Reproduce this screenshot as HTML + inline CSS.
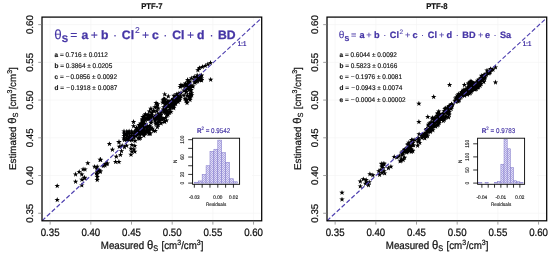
<!DOCTYPE html>
<html lang="en"><head><meta charset="utf-8"><title>PTF-7 / PTF-8</title>
<style>html,body{margin:0;padding:0;background:#fff}svg{display:block;text-rendering:geometricPrecision}</style></head>
<body>
<svg width="550" height="257" viewBox="0 0 550 257" font-family="'Liberation Sans', Arial, sans-serif" fill="#111">
<defs><pattern id="hatch" width="2" height="2" patternUnits="userSpaceOnUse"><rect width="2" height="2" fill="#b0a9e4"/><rect x="0" y="0" width="1" height="1" fill="#e0ddf5"/><rect x="1" y="1" width="1" height="1" fill="#e0ddf5"/></pattern></defs>
<rect width="550" height="257" fill="#fff"/>
<line x1="50.14" y1="17.10" x2="50.14" y2="220.80" stroke="#f4f4f4" stroke-width="0.60"/>
<line x1="42.00" y1="213.26" x2="261.70" y2="213.26" stroke="#f4f4f4" stroke-width="0.60"/>
<line x1="90.82" y1="17.10" x2="90.82" y2="220.80" stroke="#f4f4f4" stroke-width="0.60"/>
<line x1="42.00" y1="175.53" x2="261.70" y2="175.53" stroke="#f4f4f4" stroke-width="0.60"/>
<line x1="131.51" y1="17.10" x2="131.51" y2="220.80" stroke="#f4f4f4" stroke-width="0.60"/>
<line x1="42.00" y1="137.81" x2="261.70" y2="137.81" stroke="#f4f4f4" stroke-width="0.60"/>
<line x1="172.19" y1="17.10" x2="172.19" y2="220.80" stroke="#f4f4f4" stroke-width="0.60"/>
<line x1="42.00" y1="100.09" x2="261.70" y2="100.09" stroke="#f4f4f4" stroke-width="0.60"/>
<line x1="212.88" y1="17.10" x2="212.88" y2="220.80" stroke="#f4f4f4" stroke-width="0.60"/>
<line x1="42.00" y1="62.37" x2="261.70" y2="62.37" stroke="#f4f4f4" stroke-width="0.60"/>
<line x1="253.56" y1="17.10" x2="253.56" y2="220.80" stroke="#f4f4f4" stroke-width="0.60"/>
<line x1="42.00" y1="24.64" x2="261.70" y2="24.64" stroke="#f4f4f4" stroke-width="0.60"/>
<path d="M57.2 183.2L57.9 185.1L59.9 185.1L58.3 186.3L58.8 188.3L57.2 187.1L55.6 188.3L56.1 186.3L54.5 185.1L56.5 185.1ZM57.2 197.1L57.9 199.0L59.9 199.0L58.3 200.2L58.8 202.2L57.2 201.0L55.6 202.2L56.1 200.2L54.5 199.0L56.5 199.0ZM81.8 182.5L82.5 184.4L84.5 184.4L82.9 185.6L83.4 187.6L81.8 186.4L80.2 187.6L80.7 185.6L79.1 184.4L81.1 184.4ZM75.6 178.9L76.3 180.8L78.3 180.8L76.7 182.0L77.2 184.0L75.6 182.8L74.0 184.0L74.5 182.0L72.9 180.8L74.9 180.8ZM81.9 176.9L82.6 178.8L84.6 178.8L83.0 180.0L83.5 182.0L81.9 180.8L80.3 182.0L80.8 180.0L79.2 178.8L81.2 178.8ZM84.7 175.6L85.4 177.5L87.4 177.5L85.8 178.7L86.3 180.7L84.7 179.5L83.1 180.7L83.6 178.7L82.0 177.5L84.0 177.5ZM87.8 160.4L88.5 162.3L90.5 162.3L88.9 163.5L89.4 165.5L87.8 164.3L86.2 165.5L86.7 163.5L85.1 162.3L87.1 162.3ZM100.2 156.8L100.9 158.7L102.9 158.7L101.3 159.9L101.8 161.9L100.2 160.7L98.6 161.9L99.1 159.9L97.5 158.7L99.5 158.7ZM83.1 166.5L83.8 168.4L85.8 168.4L84.2 169.6L84.7 171.6L83.1 170.4L81.5 171.6L82.0 169.6L80.4 168.4L82.4 168.4ZM85.0 166.7L85.7 168.6L87.7 168.6L86.1 169.8L86.6 171.8L85.0 170.6L83.4 171.8L83.9 169.8L82.3 168.6L84.3 168.6ZM79.2 169.0L79.9 170.9L81.9 170.9L80.3 172.1L80.8 174.1L79.2 172.9L77.6 174.1L78.1 172.1L76.5 170.9L78.5 170.9ZM75.6 171.6L76.3 173.5L78.3 173.5L76.7 174.7L77.2 176.7L75.6 175.5L74.0 176.7L74.5 174.7L72.9 173.5L74.9 173.5ZM81.8 171.6L82.5 173.5L84.5 173.5L82.9 174.7L83.4 176.7L81.8 175.5L80.2 176.7L80.7 174.7L79.1 173.5L81.1 173.5ZM84.4 174.8L85.1 176.7L87.1 176.7L85.5 177.9L86.0 179.9L84.4 178.7L82.8 179.9L83.3 177.9L81.7 176.7L83.7 176.7ZM94.6 163.9L95.3 165.8L97.3 165.8L95.7 167.0L96.2 169.0L94.6 167.8L93.0 169.0L93.5 167.0L91.9 165.8L93.9 165.8ZM104.9 162.6L105.6 164.5L107.6 164.5L106.0 165.7L106.5 167.7L104.9 166.5L103.3 167.7L103.8 165.7L102.2 164.5L104.2 164.5ZM106.8 161.1L107.5 163.0L109.5 163.0L107.9 164.2L108.4 166.2L106.8 165.0L105.2 166.2L105.7 164.2L104.1 163.0L106.1 163.0ZM100.4 168.4L101.1 170.3L103.1 170.3L101.5 171.5L102.0 173.5L100.4 172.3L98.8 173.5L99.3 171.5L97.7 170.3L99.7 170.3ZM97.2 163.9L97.9 165.8L99.9 165.8L98.3 167.0L98.8 169.0L97.2 167.8L95.6 169.0L96.1 167.0L94.5 165.8L96.5 165.8ZM97.0 166.7L97.7 168.6L99.7 168.6L98.1 169.8L98.6 171.8L97.0 170.6L95.4 171.8L95.9 169.8L94.3 168.6L96.3 168.6ZM97.4 169.2L98.1 171.1L100.1 171.1L98.5 172.3L99.0 174.3L97.4 173.1L95.8 174.3L96.3 172.3L94.7 171.1L96.7 171.1ZM97.1 171.7L97.8 173.6L99.8 173.6L98.2 174.8L98.7 176.8L97.1 175.6L95.5 176.8L96.0 174.8L94.4 173.6L96.4 173.6ZM97.3 174.2L98.0 176.1L100.0 176.1L98.4 177.3L98.9 179.3L97.3 178.1L95.7 179.3L96.2 177.3L94.6 176.1L96.6 176.1ZM97.2 177.2L97.9 179.1L99.9 179.1L98.3 180.3L98.8 182.3L97.2 181.1L95.6 182.3L96.1 180.3L94.5 179.1L96.5 179.1ZM99.3 167.5L100.0 169.4L102.0 169.4L100.4 170.6L100.9 172.6L99.3 171.4L97.7 172.6L98.2 170.6L96.6 169.4L98.6 169.4ZM96.4 170.5L97.1 172.4L99.1 172.4L97.5 173.6L98.0 175.6L96.4 174.4L94.8 175.6L95.3 173.6L93.7 172.4L95.7 172.4ZM100.1 169.0L100.8 170.9L102.8 170.9L101.2 172.1L101.7 174.1L100.1 172.9L98.5 174.1L99.0 172.1L97.4 170.9L99.4 170.9ZM103.3 163.1L104.0 165.0L106.0 165.0L104.4 166.2L104.9 168.2L103.3 167.0L101.7 168.2L102.2 166.2L100.6 165.0L102.6 165.0ZM106.3 160.9L107.0 162.8L109.0 162.8L107.4 164.0L107.9 166.0L106.3 164.8L104.7 166.0L105.2 164.0L103.6 162.8L105.6 162.8ZM109.4 141.2L110.1 143.1L112.1 143.1L110.5 144.3L111.0 146.3L109.4 145.1L107.8 146.3L108.3 144.3L106.7 143.1L108.7 143.1ZM119.0 139.1L119.7 141.0L121.7 141.0L120.1 142.2L120.6 144.2L119.0 143.0L117.4 144.2L117.9 142.2L116.3 141.0L118.3 141.0ZM112.4 146.8L113.1 148.7L115.1 148.7L113.5 149.9L114.0 151.9L112.4 150.7L110.8 151.9L111.3 149.9L109.7 148.7L111.7 148.7ZM119.3 143.9L120.0 145.8L122.0 145.8L120.4 147.0L120.9 149.0L119.3 147.8L117.7 149.0L118.2 147.0L116.6 145.8L118.6 145.8ZM121.5 148.3L122.2 150.2L124.2 150.2L122.6 151.4L123.1 153.4L121.5 152.2L119.9 153.4L120.4 151.4L118.8 150.2L120.8 150.2ZM120.5 152.0L121.2 153.9L123.2 153.9L121.6 155.1L122.1 157.1L120.5 155.9L118.9 157.1L119.4 155.1L117.8 153.9L119.8 153.9ZM116.3 153.8L117.0 155.7L119.0 155.7L117.4 156.9L117.9 158.9L116.3 157.7L114.7 158.9L115.2 156.9L113.6 155.7L115.6 155.7ZM115.6 159.1L116.3 161.0L118.3 161.0L116.7 162.2L117.2 164.2L115.6 163.0L114.0 164.2L114.5 162.2L112.9 161.0L114.9 161.0ZM118.9 159.1L119.6 161.0L121.6 161.0L120.0 162.2L120.5 164.2L118.9 163.0L117.3 164.2L117.8 162.2L116.2 161.0L118.2 161.0ZM100.1 156.9L100.8 158.8L102.8 158.8L101.2 160.0L101.7 162.0L100.1 160.8L98.5 162.0L99.0 160.0L97.4 158.8L99.4 158.8ZM105.2 161.4L105.9 163.3L107.9 163.3L106.3 164.5L106.8 166.5L105.2 165.3L103.6 166.5L104.1 164.5L102.5 163.3L104.5 163.3ZM107.4 160.7L108.1 162.6L110.1 162.6L108.5 163.8L109.0 165.8L107.4 164.6L105.8 165.8L106.3 163.8L104.7 162.6L106.7 162.6ZM100.7 157.0L101.4 158.9L103.4 158.9L101.8 160.1L102.3 162.1L100.7 160.9L99.1 162.1L99.6 160.1L98.0 158.9L100.0 158.9ZM118.9 139.5L119.6 141.4L121.6 141.4L120.0 142.6L120.5 144.6L118.9 143.4L117.3 144.6L117.8 142.6L116.2 141.4L118.2 141.4ZM122.2 142.9L122.9 144.8L124.9 144.8L123.3 146.0L123.8 148.0L122.2 146.8L120.6 148.0L121.1 146.0L119.5 144.8L121.5 144.8ZM126.6 142.9L127.3 144.8L129.3 144.8L127.7 146.0L128.2 148.0L126.6 146.8L125.0 148.0L125.5 146.0L123.9 144.8L125.9 144.8ZM124.5 144.4L125.2 146.3L127.2 146.3L125.6 147.5L126.1 149.5L124.5 148.3L122.9 149.5L123.4 147.5L121.8 146.3L123.8 146.3ZM131.8 142.2L132.5 144.1L134.5 144.1L132.9 145.3L133.4 147.3L131.8 146.1L130.2 147.3L130.7 145.3L129.1 144.1L131.1 144.1ZM134.8 143.0L135.5 144.9L137.5 144.9L135.9 146.1L136.4 148.1L134.8 146.9L133.2 148.1L133.7 146.1L132.1 144.9L134.1 144.9ZM131.0 145.9L131.7 147.8L133.7 147.8L132.1 149.0L132.6 151.0L131.0 149.8L129.4 151.0L129.9 149.0L128.3 147.8L130.3 147.8ZM134.0 146.6L134.7 148.5L136.7 148.5L135.1 149.7L135.6 151.7L134.0 150.5L132.4 151.7L132.9 149.7L131.3 148.5L133.3 148.5ZM131.8 148.9L132.5 150.8L134.5 150.8L132.9 152.0L133.4 154.0L131.8 152.8L130.2 154.0L130.7 152.0L129.1 150.8L131.1 150.8ZM134.8 148.9L135.5 150.8L137.5 150.8L135.9 152.0L136.4 154.0L134.8 152.8L133.2 154.0L133.7 152.0L132.1 150.8L134.1 150.8ZM131.0 151.8L131.7 153.7L133.7 153.7L132.1 154.9L132.6 156.9L131.0 155.7L129.4 156.9L129.9 154.9L128.3 153.7L130.3 153.7ZM148.8 127.4L149.5 129.3L151.5 129.3L149.9 130.5L150.4 132.5L148.8 131.3L147.2 132.5L147.7 130.5L146.1 129.3L148.1 129.3ZM152.5 125.9L153.2 127.8L155.2 127.8L153.6 129.0L154.1 131.0L152.5 129.8L150.9 131.0L151.4 129.0L149.8 127.8L151.8 127.8ZM133.6 119.2L134.3 121.1L136.3 121.1L134.7 122.3L135.2 124.3L133.6 123.1L132.0 124.3L132.5 122.3L130.9 121.1L132.9 121.1ZM133.6 123.4L134.3 125.3L136.3 125.3L134.7 126.5L135.2 128.5L133.6 127.3L132.0 128.5L132.5 126.5L130.9 125.3L132.9 125.3ZM133.5 119.1L134.2 121.0L136.2 121.0L134.6 122.2L135.1 124.2L133.5 123.0L131.9 124.2L132.4 122.2L130.8 121.0L132.8 121.0ZM210.7 76.8L211.4 78.7L213.4 78.7L211.8 79.9L212.3 81.9L210.7 80.7L209.1 81.9L209.6 79.9L208.0 78.7L210.0 78.7ZM210.5 60.0L211.2 61.9L213.2 61.9L211.6 63.1L212.1 65.1L210.5 63.9L208.9 65.1L209.4 63.1L207.8 61.9L209.8 61.9ZM207.8 61.5L208.5 63.4L210.5 63.4L208.9 64.6L209.4 66.6L207.8 65.4L206.2 66.6L206.7 64.6L205.1 63.4L207.1 63.4ZM205.3 63.0L206.0 64.9L208.0 64.9L206.4 66.1L206.9 68.1L205.3 66.9L203.7 68.1L204.2 66.1L202.6 64.9L204.6 64.9ZM202.4 64.1L203.1 66.0L205.1 66.0L203.5 67.2L204.0 69.2L202.4 68.0L200.8 69.2L201.3 67.2L199.7 66.0L201.7 66.0ZM199.4 65.2L200.1 67.1L202.1 67.1L200.5 68.3L201.0 70.3L199.4 69.1L197.8 70.3L198.3 68.3L196.7 67.1L198.7 67.1ZM197.9 67.4L198.6 69.3L200.6 69.3L199.0 70.5L199.5 72.5L197.9 71.3L196.3 72.5L196.8 70.5L195.2 69.3L197.2 69.3ZM201.6 72.6L202.3 74.5L204.3 74.5L202.7 75.7L203.2 77.7L201.6 76.5L200.0 77.7L200.5 75.7L198.9 74.5L200.9 74.5ZM201.6 75.5L202.3 77.4L204.3 77.4L202.7 78.6L203.2 80.6L201.6 79.4L200.0 80.6L200.5 78.6L198.9 77.4L200.9 77.4ZM201.6 77.7L202.3 79.6L204.3 79.6L202.7 80.8L203.2 82.8L201.6 81.6L200.0 82.8L200.5 80.8L198.9 79.6L200.9 79.6ZM197.2 72.6L197.9 74.5L199.9 74.5L198.3 75.7L198.8 77.7L197.2 76.5L195.6 77.7L196.1 75.7L194.5 74.5L196.5 74.5ZM194.2 74.0L194.9 75.9L196.9 75.9L195.3 77.1L195.8 79.1L194.2 77.9L192.6 79.1L193.1 77.1L191.5 75.9L193.5 75.9ZM191.3 75.5L192.0 77.4L194.0 77.4L192.4 78.6L192.9 80.6L191.3 79.4L189.7 80.6L190.2 78.6L188.6 77.4L190.6 77.4ZM187.6 77.0L188.3 78.9L190.3 78.9L188.7 80.1L189.2 82.1L187.6 80.9L186.0 82.1L186.5 80.1L184.9 78.9L186.9 78.9ZM189.8 78.5L190.5 80.4L192.5 80.4L190.9 81.6L191.4 83.6L189.8 82.4L188.2 83.6L188.7 81.6L187.1 80.4L189.1 80.4ZM195.0 80.0L195.7 81.9L197.7 81.9L196.1 83.1L196.6 85.1L195.0 83.9L193.4 85.1L193.9 83.1L192.3 81.9L194.3 81.9ZM185.4 80.7L186.1 82.6L188.1 82.6L186.5 83.8L187.0 85.8L185.4 84.6L183.8 85.8L184.3 83.8L182.7 82.6L184.7 82.6ZM180.9 82.2L181.6 84.1L183.6 84.1L182.0 85.3L182.5 87.3L180.9 86.1L179.3 87.3L179.8 85.3L178.2 84.1L180.2 84.1ZM164.7 91.5L165.4 93.4L167.4 93.4L165.8 94.6L166.3 96.6L164.7 95.4L163.1 96.6L163.6 94.6L162.0 93.4L164.0 93.4ZM168.3 93.5L169.0 95.4L171.0 95.4L169.4 96.6L169.9 98.6L168.3 97.4L166.7 98.6L167.2 96.6L165.6 95.4L167.6 95.4ZM201.4 77.2L202.1 79.1L204.1 79.1L202.5 80.3L203.0 82.3L201.4 81.1L199.8 82.3L200.3 80.3L198.7 79.1L200.7 79.1ZM165.0 105.2L165.7 107.1L167.7 107.1L166.1 108.3L166.6 110.3L165.0 109.1L163.4 110.3L163.9 108.3L162.3 107.1L164.3 107.1ZM167.0 107.7L167.7 109.6L169.7 109.6L168.1 110.8L168.6 112.8L167.0 111.6L165.4 112.8L165.9 110.8L164.3 109.6L166.3 109.6ZM165.5 110.2L166.2 112.1L168.2 112.1L166.6 113.3L167.1 115.3L165.5 114.1L163.9 115.3L164.4 113.3L162.8 112.1L164.8 112.1ZM167.0 112.7L167.7 114.6L169.7 114.6L168.1 115.8L168.6 117.8L167.0 116.6L165.4 117.8L165.9 115.8L164.3 114.6L166.3 114.6ZM165.5 115.2L166.2 117.1L168.2 117.1L166.6 118.3L167.1 120.3L165.5 119.1L163.9 120.3L164.4 118.3L162.8 117.1L164.8 117.1ZM166.5 117.7L167.2 119.6L169.2 119.6L167.6 120.8L168.1 122.8L166.5 121.6L164.9 122.8L165.4 120.8L163.8 119.6L165.8 119.6ZM124.0 128.5L124.7 130.4L126.7 130.4L125.1 131.6L125.6 133.6L124.0 132.4L122.4 133.6L122.9 131.6L121.3 130.4L123.3 130.4ZM124.2 130.8L124.9 132.7L126.9 132.7L125.3 133.9L125.8 135.9L124.2 134.7L122.6 135.9L123.1 133.9L121.5 132.7L123.5 132.7ZM124.2 133.1L124.9 135.0L126.9 135.0L125.3 136.2L125.8 138.2L124.2 137.0L122.6 138.2L123.1 136.2L121.5 135.0L123.5 135.0ZM123.9 135.7L124.6 137.6L126.6 137.6L125.0 138.8L125.5 140.8L123.9 139.6L122.3 140.8L122.8 138.8L121.2 137.6L123.2 137.6ZM124.4 137.2L125.1 139.1L127.1 139.1L125.5 140.3L126.0 142.3L124.4 141.1L122.8 142.3L123.3 140.3L121.7 139.1L123.7 139.1ZM126.8 128.7L127.5 130.6L129.5 130.6L127.9 131.8L128.4 133.8L126.8 132.6L125.2 133.8L125.7 131.8L124.1 130.6L126.1 130.6ZM126.6 131.2L127.3 133.1L129.3 133.1L127.7 134.3L128.2 136.3L126.6 135.1L125.0 136.3L125.5 134.3L123.9 133.1L125.9 133.1ZM126.9 133.3L127.6 135.2L129.6 135.2L128.0 136.4L128.5 138.4L126.9 137.2L125.3 138.4L125.8 136.4L124.2 135.2L126.2 135.2ZM126.5 135.8L127.2 137.7L129.2 137.7L127.6 138.9L128.1 140.9L126.5 139.7L124.9 140.9L125.4 138.9L123.8 137.7L125.8 137.7ZM126.5 137.4L127.2 139.3L129.2 139.3L127.6 140.5L128.1 142.5L126.5 141.3L124.9 142.5L125.4 140.5L123.8 139.3L125.8 139.3ZM129.1 128.4L129.8 130.3L131.8 130.3L130.2 131.5L130.7 133.5L129.1 132.3L127.5 133.5L128.0 131.5L126.4 130.3L128.4 130.3ZM128.9 130.7L129.6 132.6L131.6 132.6L130.0 133.8L130.5 135.8L128.9 134.6L127.3 135.8L127.8 133.8L126.2 132.6L128.2 132.6ZM129.2 133.3L129.9 135.2L131.9 135.2L130.3 136.4L130.8 138.4L129.2 137.2L127.6 138.4L128.1 136.4L126.5 135.2L128.5 135.2ZM129.2 135.8L129.9 137.7L131.9 137.7L130.3 138.9L130.8 140.9L129.2 139.7L127.6 140.9L128.1 138.9L126.5 137.7L128.5 137.7ZM129.3 137.2L130.0 139.1L132.0 139.1L130.4 140.3L130.9 142.3L129.3 141.1L127.7 142.3L128.2 140.3L126.6 139.1L128.6 139.1ZM131.7 128.6L132.4 130.5L134.4 130.5L132.8 131.7L133.3 133.7L131.7 132.5L130.1 133.7L130.6 131.7L129.0 130.5L131.0 130.5ZM131.6 131.2L132.3 133.1L134.3 133.1L132.7 134.3L133.2 136.3L131.6 135.1L130.0 136.3L130.5 134.3L128.9 133.1L130.9 133.1ZM131.7 133.6L132.4 135.5L134.4 135.5L132.8 136.7L133.3 138.7L131.7 137.5L130.1 138.7L130.6 136.7L129.0 135.5L131.0 135.5ZM131.7 135.6L132.4 137.5L134.4 137.5L132.8 138.7L133.3 140.7L131.7 139.5L130.1 140.7L130.6 138.7L129.0 137.5L131.0 137.5ZM131.9 137.4L132.6 139.3L134.6 139.3L133.0 140.5L133.5 142.5L131.9 141.3L130.3 142.5L130.8 140.5L129.2 139.3L131.2 139.3ZM178.2 99.1L178.9 101.0L180.9 101.0L179.3 102.2L179.8 104.2L178.2 103.0L176.6 104.2L177.1 102.2L175.5 101.0L177.5 101.0ZM135.1 138.1L135.8 140.0L137.8 140.0L136.2 141.2L136.7 143.2L135.1 142.0L133.5 143.2L134.0 141.2L132.4 140.0L134.4 140.0ZM145.1 124.5L145.8 126.4L147.8 126.4L146.2 127.6L146.7 129.6L145.1 128.4L143.5 129.6L144.0 127.6L142.4 126.4L144.4 126.4ZM142.4 125.9L143.1 127.8L145.1 127.8L143.5 129.0L144.0 131.0L142.4 129.8L140.8 131.0L141.3 129.0L139.7 127.8L141.7 127.8ZM160.5 112.6L161.2 114.5L163.2 114.5L161.6 115.7L162.1 117.7L160.5 116.5L158.9 117.7L159.4 115.7L157.8 114.5L159.8 114.5ZM171.4 98.1L172.1 100.0L174.1 100.0L172.5 101.2L173.0 103.2L171.4 102.0L169.8 103.2L170.3 101.2L168.7 100.0L170.7 100.0ZM190.0 91.0L190.7 92.9L192.7 92.9L191.1 94.1L191.6 96.1L190.0 94.9L188.4 96.1L188.9 94.1L187.3 92.9L189.3 92.9ZM158.3 105.6L159.0 107.5L161.0 107.5L159.4 108.7L159.9 110.7L158.3 109.5L156.7 110.7L157.2 108.7L155.6 107.5L157.6 107.5ZM199.6 75.7L200.3 77.6L202.3 77.6L200.7 78.8L201.2 80.8L199.6 79.6L198.0 80.8L198.5 78.8L196.9 77.6L198.9 77.6ZM149.6 123.2L150.3 125.1L152.3 125.1L150.7 126.3L151.2 128.3L149.6 127.1L148.0 128.3L148.5 126.3L146.9 125.1L148.9 125.1ZM174.1 96.7L174.8 98.6L176.8 98.6L175.2 99.8L175.7 101.8L174.1 100.6L172.5 101.8L173.0 99.8L171.4 98.6L173.4 98.6ZM159.0 112.1L159.7 114.0L161.7 114.0L160.1 115.2L160.6 117.2L159.0 116.0L157.4 117.2L157.9 115.2L156.3 114.0L158.3 114.0ZM180.2 84.1L180.9 86.0L182.9 86.0L181.3 87.2L181.8 89.2L180.2 88.0L178.6 89.2L179.1 87.2L177.5 86.0L179.5 86.0ZM161.0 120.7L161.7 122.6L163.7 122.6L162.1 123.8L162.6 125.8L161.0 124.6L159.4 125.8L159.9 123.8L158.3 122.6L160.3 122.6ZM138.1 135.4L138.8 137.3L140.8 137.3L139.2 138.5L139.7 140.5L138.1 139.3L136.5 140.5L137.0 138.5L135.4 137.3L137.4 137.3ZM144.7 120.9L145.4 122.8L147.4 122.8L145.8 124.0L146.3 126.0L144.7 124.8L143.1 126.0L143.6 124.0L142.0 122.8L144.0 122.8ZM143.9 125.4L144.6 127.3L146.6 127.3L145.0 128.5L145.5 130.5L143.9 129.3L142.3 130.5L142.8 128.5L141.2 127.3L143.2 127.3ZM175.9 98.0L176.6 99.9L178.6 99.9L177.0 101.1L177.5 103.1L175.9 101.9L174.3 103.1L174.8 101.1L173.2 99.9L175.2 99.9ZM150.9 111.8L151.6 113.7L153.6 113.7L152.0 114.9L152.5 116.9L150.9 115.7L149.3 116.9L149.8 114.9L148.2 113.7L150.2 113.7ZM165.7 102.5L166.4 104.4L168.4 104.4L166.8 105.6L167.3 107.6L165.7 106.4L164.1 107.6L164.6 105.6L163.0 104.4L165.0 104.4ZM157.1 113.2L157.8 115.1L159.8 115.1L158.2 116.3L158.7 118.3L157.1 117.1L155.5 118.3L156.0 116.3L154.4 115.1L156.4 115.1ZM169.9 103.3L170.6 105.2L172.6 105.2L171.0 106.4L171.5 108.4L169.9 107.2L168.3 108.4L168.8 106.4L167.2 105.2L169.2 105.2ZM171.0 109.0L171.7 110.9L173.7 110.9L172.1 112.1L172.6 114.1L171.0 112.9L169.4 114.1L169.9 112.1L168.3 110.9L170.3 110.9ZM151.5 112.9L152.2 114.8L154.2 114.8L152.6 116.0L153.1 118.0L151.5 116.8L149.9 118.0L150.4 116.0L148.8 114.8L150.8 114.8ZM170.2 104.8L170.9 106.7L172.9 106.7L171.3 107.9L171.8 109.9L170.2 108.7L168.6 109.9L169.1 107.9L167.5 106.7L169.5 106.7ZM156.2 116.7L156.9 118.6L158.9 118.6L157.3 119.8L157.8 121.8L156.2 120.6L154.6 121.8L155.1 119.8L153.5 118.6L155.5 118.6ZM189.1 93.0L189.8 94.9L191.8 94.9L190.2 96.1L190.7 98.1L189.1 96.9L187.5 98.1L188.0 96.1L186.4 94.9L188.4 94.9ZM158.0 114.4L158.7 116.3L160.7 116.3L159.1 117.5L159.6 119.5L158.0 118.3L156.4 119.5L156.9 117.5L155.3 116.3L157.3 116.3ZM151.4 117.6L152.1 119.5L154.1 119.5L152.5 120.7L153.0 122.7L151.4 121.5L149.8 122.7L150.3 120.7L148.7 119.5L150.7 119.5ZM158.7 112.8L159.4 114.7L161.4 114.7L159.8 115.9L160.3 117.9L158.7 116.7L157.1 117.9L157.6 115.9L156.0 114.7L158.0 114.7ZM147.6 126.9L148.3 128.8L150.3 128.8L148.7 130.0L149.2 132.0L147.6 130.8L146.0 132.0L146.5 130.0L144.9 128.8L146.9 128.8ZM188.7 79.6L189.4 81.5L191.4 81.5L189.8 82.7L190.3 84.7L188.7 83.5L187.1 84.7L187.6 82.7L186.0 81.5L188.0 81.5ZM185.3 81.9L186.0 83.8L188.0 83.8L186.4 85.0L186.9 87.0L185.3 85.8L183.7 87.0L184.2 85.0L182.6 83.8L184.6 83.8ZM145.8 123.7L146.5 125.6L148.5 125.6L146.9 126.8L147.4 128.8L145.8 127.6L144.2 128.8L144.7 126.8L143.1 125.6L145.1 125.6ZM200.5 73.7L201.2 75.6L203.2 75.6L201.6 76.8L202.1 78.8L200.5 77.6L198.9 78.8L199.4 76.8L197.8 75.6L199.8 75.6ZM145.2 117.3L145.9 119.2L147.9 119.2L146.3 120.4L146.8 122.4L145.2 121.2L143.6 122.4L144.1 120.4L142.5 119.2L144.5 119.2ZM143.6 114.4L144.3 116.3L146.3 116.3L144.7 117.5L145.2 119.5L143.6 118.3L142.0 119.5L142.5 117.5L140.9 116.3L142.9 116.3ZM142.5 117.4L143.2 119.3L145.2 119.3L143.6 120.5L144.1 122.5L142.5 121.3L140.9 122.5L141.4 120.5L139.8 119.3L141.8 119.3ZM163.4 98.5L164.1 100.4L166.1 100.4L164.5 101.6L165.0 103.6L163.4 102.4L161.8 103.6L162.3 101.6L160.7 100.4L162.7 100.4ZM190.5 87.9L191.2 89.8L193.2 89.8L191.6 91.0L192.1 93.0L190.5 91.8L188.9 93.0L189.4 91.0L187.8 89.8L189.8 89.8ZM150.1 125.4L150.8 127.3L152.8 127.3L151.2 128.5L151.7 130.5L150.1 129.3L148.5 130.5L149.0 128.5L147.4 127.3L149.4 127.3ZM151.4 112.4L152.1 114.3L154.1 114.3L152.5 115.5L153.0 117.5L151.4 116.3L149.8 117.5L150.3 115.5L148.7 114.3L150.7 114.3ZM157.9 114.8L158.6 116.7L160.6 116.7L159.0 117.9L159.5 119.9L157.9 118.7L156.3 119.9L156.8 117.9L155.2 116.7L157.2 116.7ZM173.8 103.1L174.5 105.0L176.5 105.0L174.9 106.2L175.4 108.2L173.8 107.0L172.2 108.2L172.7 106.2L171.1 105.0L173.1 105.0ZM168.1 99.0L168.8 100.9L170.8 100.9L169.2 102.1L169.7 104.1L168.1 102.9L166.5 104.1L167.0 102.1L165.4 100.9L167.4 100.9ZM169.6 110.0L170.3 111.9L172.3 111.9L170.7 113.1L171.2 115.1L169.6 113.9L168.0 115.1L168.5 113.1L166.9 111.9L168.9 111.9ZM133.8 134.8L134.5 136.7L136.5 136.7L134.9 137.9L135.4 139.9L133.8 138.7L132.2 139.9L132.7 137.9L131.1 136.7L133.1 136.7ZM171.9 101.3L172.6 103.2L174.6 103.2L173.0 104.4L173.5 106.4L171.9 105.2L170.3 106.4L170.8 104.4L169.2 103.2L171.2 103.2ZM140.8 120.6L141.5 122.5L143.5 122.5L141.9 123.7L142.4 125.7L140.8 124.5L139.2 125.7L139.7 123.7L138.1 122.5L140.1 122.5ZM150.6 114.6L151.3 116.5L153.3 116.5L151.7 117.7L152.2 119.7L150.6 118.5L149.0 119.7L149.5 117.7L147.9 116.5L149.9 116.5ZM185.9 97.9L186.6 99.8L188.6 99.8L187.0 101.0L187.5 103.0L185.9 101.8L184.3 103.0L184.8 101.0L183.2 99.8L185.2 99.8ZM168.4 99.0L169.1 100.9L171.1 100.9L169.5 102.1L170.0 104.1L168.4 102.9L166.8 104.1L167.3 102.1L165.7 100.9L167.7 100.9ZM181.3 82.9L182.0 84.8L184.0 84.8L182.4 86.0L182.9 88.0L181.3 86.8L179.7 88.0L180.2 86.0L178.6 84.8L180.6 84.8ZM143.0 130.2L143.7 132.1L145.7 132.1L144.1 133.3L144.6 135.3L143.0 134.1L141.4 135.3L141.9 133.3L140.3 132.1L142.3 132.1ZM150.1 125.5L150.8 127.4L152.8 127.4L151.2 128.6L151.7 130.6L150.1 129.4L148.5 130.6L149.0 128.6L147.4 127.4L149.4 127.4ZM179.7 97.2L180.4 99.1L182.4 99.1L180.8 100.3L181.3 102.3L179.7 101.1L178.1 102.3L178.6 100.3L177.0 99.1L179.0 99.1ZM148.7 128.5L149.4 130.4L151.4 130.4L149.8 131.6L150.3 133.6L148.7 132.4L147.1 133.6L147.6 131.6L146.0 130.4L148.0 130.4ZM144.6 112.7L145.3 114.6L147.3 114.6L145.7 115.8L146.2 117.8L144.6 116.6L143.0 117.8L143.5 115.8L141.9 114.6L143.9 114.6ZM147.0 125.4L147.7 127.3L149.7 127.3L148.1 128.5L148.6 130.5L147.0 129.3L145.4 130.5L145.9 128.5L144.3 127.3L146.3 127.3ZM163.9 109.6L164.6 111.5L166.6 111.5L165.0 112.7L165.5 114.7L163.9 113.5L162.3 114.7L162.8 112.7L161.2 111.5L163.2 111.5ZM156.4 104.3L157.1 106.2L159.1 106.2L157.5 107.4L158.0 109.4L156.4 108.2L154.8 109.4L155.3 107.4L153.7 106.2L155.7 106.2ZM200.5 75.8L201.2 77.7L203.2 77.7L201.6 78.9L202.1 80.9L200.5 79.7L198.9 80.9L199.4 78.9L197.8 77.7L199.8 77.7ZM187.3 92.8L188.0 94.7L190.0 94.7L188.4 95.9L188.9 97.9L187.3 96.7L185.7 97.9L186.2 95.9L184.6 94.7L186.6 94.7ZM190.0 95.0L190.7 96.9L192.7 96.9L191.1 98.1L191.6 100.1L190.0 98.9L188.4 100.1L188.9 98.1L187.3 96.9L189.3 96.9ZM143.8 132.9L144.5 134.8L146.5 134.8L144.9 136.0L145.4 138.0L143.8 136.8L142.2 138.0L142.7 136.0L141.1 134.8L143.1 134.8ZM139.7 122.1L140.4 124.0L142.4 124.0L140.8 125.2L141.3 127.2L139.7 126.0L138.1 127.2L138.6 125.2L137.0 124.0L139.0 124.0ZM181.0 90.0L181.7 91.9L183.7 91.9L182.1 93.1L182.6 95.1L181.0 93.9L179.4 95.1L179.9 93.1L178.3 91.9L180.3 91.9ZM177.3 96.3L178.0 98.2L180.0 98.2L178.4 99.4L178.9 101.4L177.3 100.2L175.7 101.4L176.2 99.4L174.6 98.2L176.6 98.2ZM139.3 129.2L140.0 131.1L142.0 131.1L140.4 132.3L140.9 134.3L139.3 133.1L137.7 134.3L138.2 132.3L136.6 131.1L138.6 131.1ZM164.8 104.5L165.5 106.4L167.5 106.4L165.9 107.6L166.4 109.6L164.8 108.4L163.2 109.6L163.7 107.6L162.1 106.4L164.1 106.4ZM171.7 104.6L172.4 106.5L174.4 106.5L172.8 107.7L173.3 109.7L171.7 108.5L170.1 109.7L170.6 107.7L169.0 106.5L171.0 106.5ZM169.9 99.6L170.6 101.5L172.6 101.5L171.0 102.7L171.5 104.7L169.9 103.5L168.3 104.7L168.8 102.7L167.2 101.5L169.2 101.5ZM141.1 126.3L141.8 128.2L143.8 128.2L142.2 129.4L142.7 131.4L141.1 130.2L139.5 131.4L140.0 129.4L138.4 128.2L140.4 128.2ZM155.0 117.6L155.7 119.5L157.7 119.5L156.1 120.7L156.6 122.7L155.0 121.5L153.4 122.7L153.9 120.7L152.3 119.5L154.3 119.5ZM185.9 87.1L186.6 89.0L188.6 89.0L187.0 90.2L187.5 92.2L185.9 91.0L184.3 92.2L184.8 90.2L183.2 89.0L185.2 89.0ZM157.4 124.4L158.1 126.3L160.1 126.3L158.5 127.5L159.0 129.5L157.4 128.3L155.8 129.5L156.3 127.5L154.7 126.3L156.7 126.3ZM171.5 101.1L172.2 103.0L174.2 103.0L172.6 104.2L173.1 106.2L171.5 105.0L169.9 106.2L170.4 104.2L168.8 103.0L170.8 103.0ZM166.3 109.5L167.0 111.4L169.0 111.4L167.4 112.6L167.9 114.6L166.3 113.4L164.7 114.6L165.2 112.6L163.6 111.4L165.6 111.4ZM163.3 106.5L164.0 108.4L166.0 108.4L164.4 109.6L164.9 111.6L163.3 110.4L161.7 111.6L162.2 109.6L160.6 108.4L162.6 108.4ZM201.3 75.7L202.0 77.6L204.0 77.6L202.4 78.8L202.9 80.8L201.3 79.6L199.7 80.8L200.2 78.8L198.6 77.6L200.6 77.6ZM190.9 83.1L191.6 85.0L193.6 85.0L192.0 86.2L192.5 88.2L190.9 87.0L189.3 88.2L189.8 86.2L188.2 85.0L190.2 85.0ZM137.3 132.2L138.0 134.1L140.0 134.1L138.4 135.3L138.9 137.3L137.3 136.1L135.7 137.3L136.2 135.3L134.6 134.1L136.6 134.1ZM151.1 120.2L151.8 122.1L153.8 122.1L152.2 123.3L152.7 125.3L151.1 124.1L149.5 125.3L150.0 123.3L148.4 122.1L150.4 122.1ZM139.3 135.8L140.0 137.7L142.0 137.7L140.4 138.9L140.9 140.9L139.3 139.7L137.7 140.9L138.2 138.9L136.6 137.7L138.6 137.7ZM150.2 114.7L150.9 116.6L152.9 116.6L151.3 117.8L151.8 119.8L150.2 118.6L148.6 119.8L149.1 117.8L147.5 116.6L149.5 116.6ZM164.3 118.5L165.0 120.4L167.0 120.4L165.4 121.6L165.9 123.6L164.3 122.4L162.7 123.6L163.2 121.6L161.6 120.4L163.6 120.4ZM199.9 76.9L200.6 78.8L202.6 78.8L201.0 80.0L201.5 82.0L199.9 80.8L198.3 82.0L198.8 80.0L197.2 78.8L199.2 78.8ZM200.1 74.7L200.8 76.6L202.8 76.6L201.2 77.8L201.7 79.8L200.1 78.6L198.5 79.8L199.0 77.8L197.4 76.6L199.4 76.6ZM158.1 122.0L158.8 123.9L160.8 123.9L159.2 125.1L159.7 127.1L158.1 125.9L156.5 127.1L157.0 125.1L155.4 123.9L157.4 123.9ZM168.2 103.7L168.9 105.6L170.9 105.6L169.3 106.8L169.8 108.8L168.2 107.6L166.6 108.8L167.1 106.8L165.5 105.6L167.5 105.6ZM168.3 109.6L169.0 111.5L171.0 111.5L169.4 112.7L169.9 114.7L168.3 113.5L166.7 114.7L167.2 112.7L165.6 111.5L167.6 111.5ZM161.1 109.8L161.8 111.7L163.8 111.7L162.2 112.9L162.7 114.9L161.1 113.7L159.5 114.9L160.0 112.9L158.4 111.7L160.4 111.7ZM135.1 131.6L135.8 133.5L137.8 133.5L136.2 134.7L136.7 136.7L135.1 135.5L133.5 136.7L134.0 134.7L132.4 133.5L134.4 133.5ZM170.0 106.8L170.7 108.7L172.7 108.7L171.1 109.9L171.6 111.9L170.0 110.7L168.4 111.9L168.9 109.9L167.3 108.7L169.3 108.7ZM178.9 90.5L179.6 92.4L181.6 92.4L180.0 93.6L180.5 95.6L178.9 94.4L177.3 95.6L177.8 93.6L176.2 92.4L178.2 92.4ZM189.5 79.9L190.2 81.8L192.2 81.8L190.6 83.0L191.1 85.0L189.5 83.8L187.9 85.0L188.4 83.0L186.8 81.8L188.8 81.8ZM189.0 87.0L189.7 88.9L191.7 88.9L190.1 90.1L190.6 92.1L189.0 90.9L187.4 92.1L187.9 90.1L186.3 88.9L188.3 88.9ZM173.8 105.3L174.5 107.2L176.5 107.2L174.9 108.4L175.4 110.4L173.8 109.2L172.2 110.4L172.7 108.4L171.1 107.2L173.1 107.2ZM149.4 108.6L150.1 110.5L152.1 110.5L150.5 111.7L151.0 113.7L149.4 112.5L147.8 113.7L148.3 111.7L146.7 110.5L148.7 110.5ZM142.7 121.3L143.4 123.2L145.4 123.2L143.8 124.4L144.3 126.4L142.7 125.2L141.1 126.4L141.6 124.4L140.0 123.2L142.0 123.2ZM172.0 101.8L172.7 103.7L174.7 103.7L173.1 104.9L173.6 106.9L172.0 105.7L170.4 106.9L170.9 104.9L169.3 103.7L171.3 103.7ZM176.7 91.4L177.4 93.3L179.4 93.3L177.8 94.5L178.3 96.5L176.7 95.3L175.1 96.5L175.6 94.5L174.0 93.3L176.0 93.3ZM188.5 78.9L189.2 80.8L191.2 80.8L189.6 82.0L190.1 84.0L188.5 82.8L186.9 84.0L187.4 82.0L185.8 80.8L187.8 80.8ZM138.1 126.8L138.8 128.7L140.8 128.7L139.2 129.9L139.7 131.9L138.1 130.7L136.5 131.9L137.0 129.9L135.4 128.7L137.4 128.7ZM150.9 124.6L151.6 126.5L153.6 126.5L152.0 127.7L152.5 129.7L150.9 128.5L149.3 129.7L149.8 127.7L148.2 126.5L150.2 126.5ZM147.7 123.4L148.4 125.3L150.4 125.3L148.8 126.5L149.3 128.5L147.7 127.3L146.1 128.5L146.6 126.5L145.0 125.3L147.0 125.3ZM200.8 73.5L201.5 75.4L203.5 75.4L201.9 76.6L202.4 78.6L200.8 77.4L199.2 78.6L199.7 76.6L198.1 75.4L200.1 75.4ZM180.7 93.3L181.4 95.2L183.4 95.2L181.8 96.4L182.3 98.4L180.7 97.2L179.1 98.4L179.6 96.4L178.0 95.2L180.0 95.2ZM176.1 93.6L176.8 95.5L178.8 95.5L177.2 96.7L177.7 98.7L176.1 97.5L174.5 98.7L175.0 96.7L173.4 95.5L175.4 95.5ZM151.0 114.1L151.7 116.0L153.7 116.0L152.1 117.2L152.6 119.2L151.0 118.0L149.4 119.2L149.9 117.2L148.3 116.0L150.3 116.0ZM154.4 114.4L155.1 116.3L157.1 116.3L155.5 117.5L156.0 119.5L154.4 118.3L152.8 119.5L153.3 117.5L151.7 116.3L153.7 116.3ZM154.4 114.1L155.1 116.0L157.1 116.0L155.5 117.2L156.0 119.2L154.4 118.0L152.8 119.2L153.3 117.2L151.7 116.0L153.7 116.0ZM156.3 113.4L157.0 115.3L159.0 115.3L157.4 116.5L157.9 118.5L156.3 117.3L154.7 118.5L155.2 116.5L153.6 115.3L155.6 115.3ZM167.0 103.3L167.7 105.2L169.7 105.2L168.1 106.4L168.6 108.4L167.0 107.2L165.4 108.4L165.9 106.4L164.3 105.2L166.3 105.2ZM165.9 98.9L166.6 100.8L168.6 100.8L167.0 102.0L167.5 104.0L165.9 102.8L164.3 104.0L164.8 102.0L163.2 100.8L165.2 100.8ZM162.8 99.8L163.5 101.7L165.5 101.7L163.9 102.9L164.4 104.9L162.8 103.7L161.2 104.9L161.7 102.9L160.1 101.7L162.1 101.7ZM167.4 98.7L168.1 100.6L170.1 100.6L168.5 101.8L169.0 103.8L167.4 102.6L165.8 103.8L166.3 101.8L164.7 100.6L166.7 100.6ZM165.5 100.2L166.2 102.1L168.2 102.1L166.6 103.3L167.1 105.3L165.5 104.1L163.9 105.3L164.4 103.3L162.8 102.1L164.8 102.1ZM200.8 75.7L201.5 77.6L203.5 77.6L201.9 78.8L202.4 80.8L200.8 79.6L199.2 80.8L199.7 78.8L198.1 77.6L200.1 77.6ZM200.3 74.0L201.0 75.9L203.0 75.9L201.4 77.1L201.9 79.1L200.3 77.9L198.7 79.1L199.2 77.1L197.6 75.9L199.6 75.9ZM197.4 75.7L198.1 77.6L200.1 77.6L198.5 78.8L199.0 80.8L197.4 79.6L195.8 80.8L196.3 78.8L194.7 77.6L196.7 77.6ZM199.5 74.6L200.2 76.5L202.2 76.5L200.6 77.7L201.1 79.7L199.5 78.5L197.9 79.7L198.4 77.7L196.8 76.5L198.8 76.5ZM200.2 77.0L200.9 78.9L202.9 78.9L201.3 80.1L201.8 82.1L200.2 80.9L198.6 82.1L199.1 80.1L197.5 78.9L199.5 78.9ZM143.2 116.8L143.9 118.7L145.9 118.7L144.3 119.9L144.8 121.9L143.2 120.7L141.6 121.9L142.1 119.9L140.5 118.7L142.5 118.7ZM145.4 117.5L146.1 119.4L148.1 119.4L146.5 120.6L147.0 122.6L145.4 121.4L143.8 122.6L144.3 120.6L142.7 119.4L144.7 119.4ZM143.2 119.2L143.9 121.1L145.9 121.1L144.3 122.3L144.8 124.3L143.2 123.1L141.6 124.3L142.1 122.3L140.5 121.1L142.5 121.1ZM147.1 116.4L147.8 118.3L149.8 118.3L148.2 119.5L148.7 121.5L147.1 120.3L145.5 121.5L146.0 119.5L144.4 118.3L146.4 118.3ZM144.9 115.7L145.6 117.6L147.6 117.6L146.0 118.8L146.5 120.8L144.9 119.6L143.3 120.8L143.8 118.8L142.2 117.6L144.2 117.6ZM146.7 115.2L147.4 117.1L149.4 117.1L147.8 118.3L148.3 120.3L146.7 119.1L145.1 120.3L145.6 118.3L144.0 117.1L146.0 117.1ZM197.2 76.7L197.9 78.6L199.9 78.6L198.3 79.8L198.8 81.8L197.2 80.6L195.6 81.8L196.1 79.8L194.5 78.6L196.5 78.6ZM194.9 76.9L195.6 78.8L197.6 78.8L196.0 80.0L196.5 82.0L194.9 80.8L193.3 82.0L193.8 80.0L192.2 78.8L194.2 78.8ZM196.3 78.7L197.0 80.6L199.0 80.6L197.4 81.8L197.9 83.8L196.3 82.6L194.7 83.8L195.2 81.8L193.6 80.6L195.6 80.6ZM195.9 78.7L196.6 80.6L198.6 80.6L197.0 81.8L197.5 83.8L195.9 82.6L194.3 83.8L194.8 81.8L193.2 80.6L195.2 80.6ZM194.6 79.1L195.3 81.0L197.3 81.0L195.7 82.2L196.2 84.2L194.6 83.0L193.0 84.2L193.5 82.2L191.9 81.0L193.9 81.0ZM195.2 77.8L195.9 79.7L197.9 79.7L196.3 80.9L196.8 82.9L195.2 81.7L193.6 82.9L194.1 80.9L192.5 79.7L194.5 79.7ZM197.6 78.6L198.3 80.5L200.3 80.5L198.7 81.7L199.2 83.7L197.6 82.5L196.0 83.7L196.5 81.7L194.9 80.5L196.9 80.5ZM187.1 81.7L187.8 83.6L189.8 83.6L188.2 84.8L188.7 86.8L187.1 85.6L185.5 86.8L186.0 84.8L184.4 83.6L186.4 83.6ZM192.0 83.3L192.7 85.2L194.7 85.2L193.1 86.4L193.6 88.4L192.0 87.2L190.4 88.4L190.9 86.4L189.3 85.2L191.3 85.2ZM187.0 83.3L187.7 85.2L189.7 85.2L188.1 86.4L188.6 88.4L187.0 87.2L185.4 88.4L185.9 86.4L184.3 85.2L186.3 85.2ZM188.7 81.4L189.4 83.3L191.4 83.3L189.8 84.5L190.3 86.5L188.7 85.3L187.1 86.5L187.6 84.5L186.0 83.3L188.0 83.3ZM193.0 83.6L193.7 85.5L195.7 85.5L194.1 86.7L194.6 88.7L193.0 87.5L191.4 88.7L191.9 86.7L190.3 85.5L192.3 85.5ZM142.5 116.4L143.2 118.3L145.2 118.3L143.6 119.5L144.1 121.5L142.5 120.3L140.9 121.5L141.4 119.5L139.8 118.3L141.8 118.3ZM142.9 114.2L143.6 116.1L145.6 116.1L144.0 117.3L144.5 119.3L142.9 118.1L141.3 119.3L141.8 117.3L140.2 116.1L142.2 116.1ZM142.5 118.3L143.2 120.2L145.2 120.2L143.6 121.4L144.1 123.4L142.5 122.2L140.9 123.4L141.4 121.4L139.8 120.2L141.8 120.2ZM143.9 118.3L144.6 120.2L146.6 120.2L145.0 121.4L145.5 123.4L143.9 122.2L142.3 123.4L142.8 121.4L141.2 120.2L143.2 120.2ZM143.1 117.3L143.8 119.2L145.8 119.2L144.2 120.4L144.7 122.4L143.1 121.2L141.5 122.4L142.0 120.4L140.4 119.2L142.4 119.2ZM163.9 96.3L164.6 98.2L166.6 98.2L165.0 99.4L165.5 101.4L163.9 100.2L162.3 101.4L162.8 99.4L161.2 98.2L163.2 98.2ZM165.0 96.7L165.7 98.6L167.7 98.6L166.1 99.8L166.6 101.8L165.0 100.6L163.4 101.8L163.9 99.8L162.3 98.6L164.3 98.6ZM164.4 96.6L165.1 98.5L167.1 98.5L165.5 99.7L166.0 101.7L164.4 100.5L162.8 101.7L163.3 99.7L161.7 98.5L163.7 98.5ZM164.8 97.3L165.5 99.2L167.5 99.2L165.9 100.4L166.4 102.4L164.8 101.2L163.2 102.4L163.7 100.4L162.1 99.2L164.1 99.2ZM163.1 97.0L163.8 98.9L165.8 98.9L164.2 100.1L164.7 102.1L163.1 100.9L161.5 102.1L162.0 100.1L160.4 98.9L162.4 98.9ZM163.7 97.0L164.4 98.9L166.4 98.9L164.8 100.1L165.3 102.1L163.7 100.9L162.1 102.1L162.6 100.1L161.0 98.9L163.0 98.9ZM141.9 123.6L142.6 125.5L144.6 125.5L143.0 126.7L143.5 128.7L141.9 127.5L140.3 128.7L140.8 126.7L139.2 125.5L141.2 125.5ZM137.3 126.8L138.0 128.7L140.0 128.7L138.4 129.9L138.9 131.9L137.3 130.7L135.7 131.9L136.2 129.9L134.6 128.7L136.6 128.7ZM137.2 127.6L137.9 129.5L139.9 129.5L138.3 130.7L138.8 132.7L137.2 131.5L135.6 132.7L136.1 130.7L134.5 129.5L136.5 129.5ZM136.8 125.3L137.5 127.2L139.5 127.2L137.9 128.4L138.4 130.4L136.8 129.2L135.2 130.4L135.7 128.4L134.1 127.2L136.1 127.2ZM136.4 125.2L137.1 127.1L139.1 127.1L137.5 128.3L138.0 130.3L136.4 129.1L134.8 130.3L135.3 128.3L133.7 127.1L135.7 127.1ZM190.6 93.8L191.3 95.7L193.3 95.7L191.7 96.9L192.2 98.9L190.6 97.7L189.0 98.9L189.5 96.9L187.9 95.7L189.9 95.7ZM191.7 92.4L192.4 94.3L194.4 94.3L192.8 95.5L193.3 97.5L191.7 96.3L190.1 97.5L190.6 95.5L189.0 94.3L191.0 94.3ZM191.6 90.4L192.3 92.3L194.3 92.3L192.7 93.5L193.2 95.5L191.6 94.3L190.0 95.5L190.5 93.5L188.9 92.3L190.9 92.3ZM189.0 94.5L189.7 96.4L191.7 96.4L190.1 97.6L190.6 99.6L189.0 98.4L187.4 99.6L187.9 97.6L186.3 96.4L188.3 96.4ZM176.4 96.1L177.1 98.0L179.1 98.0L177.5 99.2L178.0 101.2L176.4 100.0L174.8 101.2L175.3 99.2L173.7 98.0L175.7 98.0ZM172.5 99.2L173.2 101.1L175.2 101.1L173.6 102.3L174.1 104.3L172.5 103.1L170.9 104.3L171.4 102.3L169.8 101.1L171.8 101.1ZM172.8 100.7L173.5 102.6L175.5 102.6L173.9 103.8L174.4 105.8L172.8 104.6L171.2 105.8L171.7 103.8L170.1 102.6L172.1 102.6ZM172.5 97.6L173.2 99.5L175.2 99.5L173.6 100.7L174.1 102.7L172.5 101.5L170.9 102.7L171.4 100.7L169.8 99.5L171.8 99.5ZM174.6 99.2L175.3 101.1L177.3 101.1L175.7 102.3L176.2 104.3L174.6 103.1L173.0 104.3L173.5 102.3L171.9 101.1L173.9 101.1ZM171.4 97.6L172.1 99.5L174.1 99.5L172.5 100.7L173.0 102.7L171.4 101.5L169.8 102.7L170.3 100.7L168.7 99.5L170.7 99.5ZM173.1 100.5L173.8 102.4L175.8 102.4L174.2 103.6L174.7 105.6L173.1 104.4L171.5 105.6L172.0 103.6L170.4 102.4L172.4 102.4ZM135.9 132.7L136.6 134.6L138.6 134.6L137.0 135.8L137.5 137.8L135.9 136.6L134.3 137.8L134.8 135.8L133.2 134.6L135.2 134.6ZM133.9 133.6L134.6 135.5L136.6 135.5L135.0 136.7L135.5 138.7L133.9 137.5L132.3 138.7L132.8 136.7L131.2 135.5L133.2 135.5ZM134.5 131.7L135.2 133.6L137.2 133.6L135.6 134.8L136.1 136.8L134.5 135.6L132.9 136.8L133.4 134.8L131.8 133.6L133.8 133.6ZM133.8 133.2L134.5 135.1L136.5 135.1L134.9 136.3L135.4 138.3L133.8 137.1L132.2 138.3L132.7 136.3L131.1 135.1L133.1 135.1ZM137.3 131.6L138.0 133.5L140.0 133.5L138.4 134.7L138.9 136.7L137.3 135.5L135.7 136.7L136.2 134.7L134.6 133.5L136.6 133.5ZM149.3 115.4L150.0 117.3L152.0 117.3L150.4 118.5L150.9 120.5L149.3 119.3L147.7 120.5L148.2 118.5L146.6 117.3L148.6 117.3ZM148.3 116.4L149.0 118.3L151.0 118.3L149.4 119.5L149.9 121.5L148.3 120.3L146.7 121.5L147.2 119.5L145.6 118.3L147.6 118.3ZM148.8 114.0L149.5 115.9L151.5 115.9L149.9 117.1L150.4 119.1L148.8 117.9L147.2 119.1L147.7 117.1L146.1 115.9L148.1 115.9ZM186.6 85.9L187.3 87.8L189.3 87.8L187.7 89.0L188.2 91.0L186.6 89.8L185.0 91.0L185.5 89.0L183.9 87.8L185.9 87.8ZM191.2 87.2L191.9 89.1L193.9 89.1L192.3 90.3L192.8 92.3L191.2 91.1L189.6 92.3L190.1 90.3L188.5 89.1L190.5 89.1ZM184.9 95.9L185.6 97.8L187.6 97.8L186.0 99.0L186.5 101.0L184.9 99.8L183.3 101.0L183.8 99.0L182.2 97.8L184.2 97.8ZM186.2 97.5L186.9 99.4L188.9 99.4L187.3 100.6L187.8 102.6L186.2 101.4L184.6 102.6L185.1 100.6L183.5 99.4L185.5 99.4ZM184.0 92.5L184.7 94.4L186.7 94.4L185.1 95.6L185.6 97.6L184.0 96.4L182.4 97.6L182.9 95.6L181.3 94.4L183.3 94.4ZM186.9 97.1L187.6 99.0L189.6 99.0L188.0 100.2L188.5 102.2L186.9 101.0L185.3 102.2L185.8 100.2L184.2 99.0L186.2 99.0ZM187.0 100.1L187.7 102.0L189.7 102.0L188.1 103.2L188.6 105.2L187.0 104.0L185.4 105.2L185.9 103.2L184.3 102.0L186.3 102.0ZM143.5 128.2L144.2 130.1L146.2 130.1L144.6 131.3L145.1 133.3L143.5 132.1L141.9 133.3L142.4 131.3L140.8 130.1L142.8 130.1ZM141.6 129.9L142.3 131.8L144.3 131.8L142.7 133.0L143.2 135.0L141.6 133.8L140.0 135.0L140.5 133.0L138.9 131.8L140.9 131.8ZM143.2 125.7L143.9 127.6L145.9 127.6L144.3 128.8L144.8 130.8L143.2 129.6L141.6 130.8L142.1 128.8L140.5 127.6L142.5 127.6ZM144.2 128.7L144.9 130.6L146.9 130.6L145.3 131.8L145.8 133.8L144.2 132.6L142.6 133.8L143.1 131.8L141.5 130.6L143.5 130.6ZM142.3 128.5L143.0 130.4L145.0 130.4L143.4 131.6L143.9 133.6L142.3 132.4L140.7 133.6L141.2 131.6L139.6 130.4L141.6 130.4ZM143.8 125.1L144.5 127.0L146.5 127.0L144.9 128.2L145.4 130.2L143.8 129.0L142.2 130.2L142.7 128.2L141.1 127.0L143.1 127.0ZM157.0 120.7L157.7 122.6L159.7 122.6L158.1 123.8L158.6 125.8L157.0 124.6L155.4 125.8L155.9 123.8L154.3 122.6L156.3 122.6ZM161.1 116.5L161.8 118.4L163.8 118.4L162.2 119.6L162.7 121.6L161.1 120.4L159.5 121.6L160.0 119.6L158.4 118.4L160.4 118.4ZM164.8 119.1L165.5 121.0L167.5 121.0L165.9 122.2L166.4 124.2L164.8 123.0L163.2 124.2L163.7 122.2L162.1 121.0L164.1 121.0ZM161.0 120.1L161.7 122.0L163.7 122.0L162.1 123.2L162.6 125.2L161.0 124.0L159.4 125.2L159.9 123.2L158.3 122.0L160.3 122.0ZM163.0 115.8L163.7 117.7L165.7 117.7L164.1 118.9L164.6 120.9L163.0 119.7L161.4 120.9L161.9 118.9L160.3 117.7L162.3 117.7ZM158.4 112.4L159.1 114.3L161.1 114.3L159.5 115.5L160.0 117.5L158.4 116.3L156.8 117.5L157.3 115.5L155.7 114.3L157.7 114.3ZM157.5 112.2L158.2 114.1L160.2 114.1L158.6 115.3L159.1 117.3L157.5 116.1L155.9 117.3L156.4 115.3L154.8 114.1L156.8 114.1ZM159.9 113.7L160.6 115.6L162.6 115.6L161.0 116.8L161.5 118.8L159.9 117.6L158.3 118.8L158.8 116.8L157.2 115.6L159.2 115.6ZM158.1 113.7L158.8 115.6L160.8 115.6L159.2 116.8L159.7 118.8L158.1 117.6L156.5 118.8L157.0 116.8L155.4 115.6L157.4 115.6ZM159.2 112.3L159.9 114.2L161.9 114.2L160.3 115.4L160.8 117.4L159.2 116.2L157.6 117.4L158.1 115.4L156.5 114.2L158.5 114.2ZM157.7 111.5L158.4 113.4L160.4 113.4L158.8 114.6L159.3 116.6L157.7 115.4L156.1 116.6L156.6 114.6L155.0 113.4L157.0 113.4ZM162.0 116.1L162.7 118.0L164.7 118.0L163.1 119.2L163.6 121.2L162.0 120.0L160.4 121.2L160.9 119.2L159.3 118.0L161.3 118.0ZM159.4 112.2L160.1 114.1L162.1 114.1L160.5 115.3L161.0 117.3L159.4 116.1L157.8 117.3L158.3 115.3L156.7 114.1L158.7 114.1ZM199.0 75.4L199.7 77.3L201.7 77.3L200.1 78.5L200.6 80.5L199.0 79.3L197.4 80.5L197.9 78.5L196.3 77.3L198.3 77.3ZM197.9 74.4L198.6 76.3L200.6 76.3L199.0 77.5L199.5 79.5L197.9 78.3L196.3 79.5L196.8 77.5L195.2 76.3L197.2 76.3ZM197.1 74.4L197.8 76.3L199.8 76.3L198.2 77.5L198.7 79.5L197.1 78.3L195.5 79.5L196.0 77.5L194.4 76.3L196.4 76.3ZM199.7 73.2L200.4 75.1L202.4 75.1L200.8 76.3L201.3 78.3L199.7 77.1L198.1 78.3L198.6 76.3L197.0 75.1L199.0 75.1ZM157.7 101.4L158.4 103.3L160.4 103.3L158.8 104.5L159.3 106.5L157.7 105.3L156.1 106.5L156.6 104.5L155.0 103.3L157.0 103.3ZM156.1 100.2L156.8 102.1L158.8 102.1L157.2 103.3L157.7 105.3L156.1 104.1L154.5 105.3L155.0 103.3L153.4 102.1L155.4 102.1ZM168.0 111.9L168.7 113.8L170.7 113.8L169.1 115.0L169.6 117.0L168.0 115.8L166.4 117.0L166.9 115.0L165.3 113.8L167.3 113.8ZM140.4 135.2L141.1 137.1L143.1 137.1L141.5 138.3L142.0 140.3L140.4 139.1L138.8 140.3L139.3 138.3L137.7 137.1L139.7 137.1ZM140.1 131.5L140.8 133.4L142.8 133.4L141.2 134.6L141.7 136.6L140.1 135.4L138.5 136.6L139.0 134.6L137.4 133.4L139.4 133.4ZM140.1 135.0L140.8 136.9L142.8 136.9L141.2 138.1L141.7 140.1L140.1 138.9L138.5 140.1L139.0 138.1L137.4 136.9L139.4 136.9ZM155.0 114.8L155.7 116.7L157.7 116.7L156.1 117.9L156.6 119.9L155.0 118.7L153.4 119.9L153.9 117.9L152.3 116.7L154.3 116.7ZM154.9 114.4L155.6 116.3L157.6 116.3L156.0 117.5L156.5 119.5L154.9 118.3L153.3 119.5L153.8 117.5L152.2 116.3L154.2 116.3ZM154.7 115.9L155.4 117.8L157.4 117.8L155.8 119.0L156.3 121.0L154.7 119.8L153.1 121.0L153.6 119.0L152.0 117.8L154.0 117.8ZM154.9 104.3L155.6 106.2L157.6 106.2L156.0 107.4L156.5 109.4L154.9 108.2L153.3 109.4L153.8 107.4L152.2 106.2L154.2 106.2ZM156.9 102.2L157.6 104.1L159.6 104.1L158.0 105.3L158.5 107.3L156.9 106.1L155.3 107.3L155.8 105.3L154.2 104.1L156.2 104.1ZM137.1 127.6L137.8 129.5L139.8 129.5L138.2 130.7L138.7 132.7L137.1 131.5L135.5 132.7L136.0 130.7L134.4 129.5L136.4 129.5ZM134.4 128.6L135.1 130.5L137.1 130.5L135.5 131.7L136.0 133.7L134.4 132.5L132.8 133.7L133.3 131.7L131.7 130.5L133.7 130.5ZM138.6 129.6L139.3 131.5L141.3 131.5L139.7 132.7L140.2 134.7L138.6 133.5L137.0 134.7L137.5 132.7L135.9 131.5L137.9 131.5ZM136.7 131.5L137.4 133.4L139.4 133.4L137.8 134.6L138.3 136.6L136.7 135.4L135.1 136.6L135.6 134.6L134.0 133.4L136.0 133.4ZM137.6 130.0L138.3 131.9L140.3 131.9L138.7 133.1L139.2 135.1L137.6 133.9L136.0 135.1L136.5 133.1L134.9 131.9L136.9 131.9ZM135.5 130.2L136.2 132.1L138.2 132.1L136.6 133.3L137.1 135.3L135.5 134.1L133.9 135.3L134.4 133.3L132.8 132.1L134.8 132.1ZM136.9 131.2L137.6 133.1L139.6 133.1L138.0 134.3L138.5 136.3L136.9 135.1L135.3 136.3L135.8 134.3L134.2 133.1L136.2 133.1ZM176.0 98.7L176.7 100.6L178.7 100.6L177.1 101.8L177.6 103.8L176.0 102.6L174.4 103.8L174.9 101.8L173.3 100.6L175.3 100.6ZM173.6 102.2L174.3 104.1L176.3 104.1L174.7 105.3L175.2 107.3L173.6 106.1L172.0 107.3L172.5 105.3L170.9 104.1L172.9 104.1ZM176.5 97.7L177.2 99.6L179.2 99.6L177.6 100.8L178.1 102.8L176.5 101.6L174.9 102.8L175.4 100.8L173.8 99.6L175.8 99.6ZM176.6 95.5L177.3 97.4L179.3 97.4L177.7 98.6L178.2 100.6L176.6 99.4L175.0 100.6L175.5 98.6L173.9 97.4L175.9 97.4ZM177.6 96.6L178.3 98.5L180.3 98.5L178.7 99.7L179.2 101.7L177.6 100.5L176.0 101.7L176.5 99.7L174.9 98.5L176.9 98.5ZM175.8 98.3L176.5 100.2L178.5 100.2L176.9 101.4L177.4 103.4L175.8 102.2L174.2 103.4L174.7 101.4L173.1 100.2L175.1 100.2ZM156.8 108.3L157.5 110.2L159.5 110.2L157.9 111.4L158.4 113.4L156.8 112.2L155.2 113.4L155.7 111.4L154.1 110.2L156.1 110.2ZM151.9 109.8L152.6 111.7L154.6 111.7L153.0 112.9L153.5 114.9L151.9 113.7L150.3 114.9L150.8 112.9L149.2 111.7L151.2 111.7ZM153.4 107.8L154.1 109.7L156.1 109.7L154.5 110.9L155.0 112.9L153.4 111.7L151.8 112.9L152.3 110.9L150.7 109.7L152.7 109.7ZM150.9 105.8L151.6 107.7L153.6 107.7L152.0 108.9L152.5 110.9L150.9 109.7L149.3 110.9L149.8 108.9L148.2 107.7L150.2 107.7ZM154.1 108.7L154.8 110.6L156.8 110.6L155.2 111.8L155.7 113.8L154.1 112.6L152.5 113.8L153.0 111.8L151.4 110.6L153.4 110.6ZM141.5 121.2L142.2 123.1L144.2 123.1L142.6 124.3L143.1 126.3L141.5 125.1L139.9 126.3L140.4 124.3L138.8 123.1L140.8 123.1ZM165.5 108.1L166.2 110.0L168.2 110.0L166.6 111.2L167.1 113.2L165.5 112.0L163.9 113.2L164.4 111.2L162.8 110.0L164.8 110.0ZM163.8 104.3L164.5 106.2L166.5 106.2L164.9 107.4L165.4 109.4L163.8 108.2L162.2 109.4L162.7 107.4L161.1 106.2L163.1 106.2ZM163.7 107.5L164.4 109.4L166.4 109.4L164.8 110.6L165.3 112.6L163.7 111.4L162.1 112.6L162.6 110.6L161.0 109.4L163.0 109.4ZM164.3 107.0L165.0 108.9L167.0 108.9L165.4 110.1L165.9 112.1L164.3 110.9L162.7 112.1L163.2 110.1L161.6 108.9L163.6 108.9ZM166.1 107.9L166.8 109.8L168.8 109.8L167.2 111.0L167.7 113.0L166.1 111.8L164.5 113.0L165.0 111.0L163.4 109.8L165.4 109.8ZM165.8 105.6L166.5 107.5L168.5 107.5L166.9 108.7L167.4 110.7L165.8 109.5L164.2 110.7L164.7 108.7L163.1 107.5L165.1 107.5ZM190.0 97.1L190.7 99.0L192.7 99.0L191.1 100.2L191.6 102.2L190.0 101.0L188.4 102.2L188.9 100.2L187.3 99.0L189.3 99.0ZM159.0 119.3L159.7 121.2L161.7 121.2L160.1 122.4L160.6 124.4L159.0 123.2L157.4 124.4L157.9 122.4L156.3 121.2L158.3 121.2ZM157.8 119.8L158.5 121.7L160.5 121.7L158.9 122.9L159.4 124.9L157.8 123.7L156.2 124.9L156.7 122.9L155.1 121.7L157.1 121.7ZM147.4 113.1L148.1 115.0L150.1 115.0L148.5 116.2L149.0 118.2L147.4 117.0L145.8 118.2L146.3 116.2L144.7 115.0L146.7 115.0ZM145.5 111.4L146.2 113.3L148.2 113.3L146.6 114.5L147.1 116.5L145.5 115.3L143.9 116.5L144.4 114.5L142.8 113.3L144.8 113.3ZM147.9 112.4L148.6 114.3L150.6 114.3L149.0 115.5L149.5 117.5L147.9 116.3L146.3 117.5L146.8 115.5L145.2 114.3L147.2 114.3ZM149.0 112.1L149.7 114.0L151.7 114.0L150.1 115.2L150.6 117.2L149.0 116.0L147.4 117.2L147.9 115.2L146.3 114.0L148.3 114.0ZM143.2 125.9L143.9 127.8L145.9 127.8L144.3 129.0L144.8 131.0L143.2 129.8L141.6 131.0L142.1 129.0L140.5 127.8L142.5 127.8ZM140.8 127.0L141.5 128.9L143.5 128.9L141.9 130.1L142.4 132.1L140.8 130.9L139.2 132.1L139.7 130.1L138.1 128.9L140.1 128.9ZM141.6 129.7L142.3 131.6L144.3 131.6L142.7 132.8L143.2 134.8L141.6 133.6L140.0 134.8L140.5 132.8L138.9 131.6L140.9 131.6ZM140.3 129.5L141.0 131.4L143.0 131.4L141.4 132.6L141.9 134.6L140.3 133.4L138.7 134.6L139.2 132.6L137.6 131.4L139.6 131.4ZM141.7 128.3L142.4 130.2L144.4 130.2L142.8 131.4L143.3 133.4L141.7 132.2L140.1 133.4L140.6 131.4L139.0 130.2L141.0 130.2ZM189.8 86.1L190.5 88.0L192.5 88.0L190.9 89.2L191.4 91.2L189.8 90.0L188.2 91.2L188.7 89.2L187.1 88.0L189.1 88.0ZM190.4 84.2L191.1 86.1L193.1 86.1L191.5 87.3L192.0 89.3L190.4 88.1L188.8 89.3L189.3 87.3L187.7 86.1L189.7 86.1ZM189.4 84.2L190.1 86.1L192.1 86.1L190.5 87.3L191.0 89.3L189.4 88.1L187.8 89.3L188.3 87.3L186.7 86.1L188.7 86.1ZM186.5 89.5L187.2 91.4L189.2 91.4L187.6 92.6L188.1 94.6L186.5 93.4L184.9 94.6L185.4 92.6L183.8 91.4L185.8 91.4ZM185.9 86.8L186.6 88.7L188.6 88.7L187.0 89.9L187.5 91.9L185.9 90.7L184.3 91.9L184.8 89.9L183.2 88.7L185.2 88.7ZM184.2 87.9L184.9 89.8L186.9 89.8L185.3 91.0L185.8 93.0L184.2 91.8L182.6 93.0L183.1 91.0L181.5 89.8L183.5 89.8ZM186.1 89.1L186.8 91.0L188.8 91.0L187.2 92.2L187.7 94.2L186.1 93.0L184.5 94.2L185.0 92.2L183.4 91.0L185.4 91.0ZM183.8 87.5L184.5 89.4L186.5 89.4L184.9 90.6L185.4 92.6L183.8 91.4L182.2 92.6L182.7 90.6L181.1 89.4L183.1 89.4ZM141.7 130.5L142.4 132.4L144.4 132.4L142.8 133.6L143.3 135.6L141.7 134.4L140.1 135.6L140.6 133.6L139.0 132.4L141.0 132.4ZM145.0 129.6L145.7 131.5L147.7 131.5L146.1 132.7L146.6 134.7L145.0 133.5L143.4 134.7L143.9 132.7L142.3 131.5L144.3 131.5ZM142.3 127.4L143.0 129.3L145.0 129.3L143.4 130.5L143.9 132.5L142.3 131.3L140.7 132.5L141.2 130.5L139.6 129.3L141.6 129.3ZM144.7 130.9L145.4 132.8L147.4 132.8L145.8 134.0L146.3 136.0L144.7 134.8L143.1 136.0L143.6 134.0L142.0 132.8L144.0 132.8ZM145.4 128.6L146.1 130.5L148.1 130.5L146.5 131.7L147.0 133.7L145.4 132.5L143.8 133.7L144.3 131.7L142.7 130.5L144.7 130.5ZM145.5 130.2L146.2 132.1L148.2 132.1L146.6 133.3L147.1 135.3L145.5 134.1L143.9 135.3L144.4 133.3L142.8 132.1L144.8 132.1ZM144.1 130.0L144.8 131.9L146.8 131.9L145.2 133.1L145.7 135.1L144.1 133.9L142.5 135.1L143.0 133.1L141.4 131.9L143.4 131.9ZM142.1 128.9L142.8 130.8L144.8 130.8L143.2 132.0L143.7 134.0L142.1 132.8L140.5 134.0L141.0 132.0L139.4 130.8L141.4 130.8ZM153.6 128.1L154.3 130.0L156.3 130.0L154.7 131.2L155.2 133.2L153.6 132.0L152.0 133.2L152.5 131.2L150.9 130.0L152.9 130.0ZM155.3 128.2L156.0 130.1L158.0 130.1L156.4 131.3L156.9 133.3L155.3 132.1L153.7 133.3L154.2 131.3L152.6 130.1L154.6 130.1ZM158.3 111.8L159.0 113.7L161.0 113.7L159.4 114.9L159.9 116.9L158.3 115.7L156.7 116.9L157.2 114.9L155.6 113.7L157.6 113.7ZM173.0 101.5L173.7 103.4L175.7 103.4L174.1 104.6L174.6 106.6L173.0 105.4L171.4 106.6L171.9 104.6L170.3 103.4L172.3 103.4ZM171.5 98.8L172.2 100.7L174.2 100.7L172.6 101.9L173.1 103.9L171.5 102.7L169.9 103.9L170.4 101.9L168.8 100.7L170.8 100.7ZM174.6 99.2L175.3 101.1L177.3 101.1L175.7 102.3L176.2 104.3L174.6 103.1L173.0 104.3L173.5 102.3L171.9 101.1L173.9 101.1ZM174.2 99.5L174.9 101.4L176.9 101.4L175.3 102.6L175.8 104.6L174.2 103.4L172.6 104.6L173.1 102.6L171.5 101.4L173.5 101.4ZM174.1 100.1L174.8 102.0L176.8 102.0L175.2 103.2L175.7 105.2L174.1 104.0L172.5 105.2L173.0 103.2L171.4 102.0L173.4 102.0ZM175.7 101.1L176.4 103.0L178.4 103.0L176.8 104.2L177.3 106.2L175.7 105.0L174.1 106.2L174.6 104.2L173.0 103.0L175.0 103.0ZM167.1 99.9L167.8 101.8L169.8 101.8L168.2 103.0L168.7 105.0L167.1 103.8L165.5 105.0L166.0 103.0L164.4 101.8L166.4 101.8ZM169.1 101.2L169.8 103.1L171.8 103.1L170.2 104.3L170.7 106.3L169.1 105.1L167.5 106.3L168.0 104.3L166.4 103.1L168.4 103.1ZM170.0 101.3L170.7 103.2L172.7 103.2L171.1 104.4L171.6 106.4L170.0 105.2L168.4 106.4L168.9 104.4L167.3 103.2L169.3 103.2ZM167.8 100.0L168.5 101.9L170.5 101.9L168.9 103.1L169.4 105.1L167.8 103.9L166.2 105.1L166.7 103.1L165.1 101.9L167.1 101.9ZM165.7 100.9L166.4 102.8L168.4 102.8L166.8 104.0L167.3 106.0L165.7 104.8L164.1 106.0L164.6 104.0L163.0 102.8L165.0 102.8ZM169.9 102.0L170.6 103.9L172.6 103.9L171.0 105.1L171.5 107.1L169.9 105.9L168.3 107.1L168.8 105.1L167.2 103.9L169.2 103.9ZM168.9 100.9L169.6 102.8L171.6 102.8L170.0 104.0L170.5 106.0L168.9 104.8L167.3 106.0L167.8 104.0L166.2 102.8L168.2 102.8ZM170.6 101.2L171.3 103.1L173.3 103.1L171.7 104.3L172.2 106.3L170.6 105.1L169.0 106.3L169.5 104.3L167.9 103.1L169.9 103.1ZM141.7 122.8L142.4 124.7L144.4 124.7L142.8 125.9L143.3 127.9L141.7 126.7L140.1 127.9L140.6 125.9L139.0 124.7L141.0 124.7ZM142.0 122.2L142.7 124.1L144.7 124.1L143.1 125.3L143.6 127.3L142.0 126.1L140.4 127.3L140.9 125.3L139.3 124.1L141.3 124.1ZM140.0 124.6L140.7 126.5L142.7 126.5L141.1 127.7L141.6 129.7L140.0 128.5L138.4 129.7L138.9 127.7L137.3 126.5L139.3 126.5ZM141.1 121.3L141.8 123.2L143.8 123.2L142.2 124.4L142.7 126.4L141.1 125.2L139.5 126.4L140.0 124.4L138.4 123.2L140.4 123.2ZM139.1 122.6L139.8 124.5L141.8 124.5L140.2 125.7L140.7 127.7L139.1 126.5L137.5 127.7L138.0 125.7L136.4 124.5L138.4 124.5ZM179.4 95.7L180.1 97.6L182.1 97.6L180.5 98.8L181.0 100.8L179.4 99.6L177.8 100.8L178.3 98.8L176.7 97.6L178.7 97.6ZM178.2 93.8L178.9 95.7L180.9 95.7L179.3 96.9L179.8 98.9L178.2 97.7L176.6 98.9L177.1 96.9L175.5 95.7L177.5 95.7ZM178.1 97.3L178.8 99.2L180.8 99.2L179.2 100.4L179.7 102.4L178.1 101.2L176.5 102.4L177.0 100.4L175.4 99.2L177.4 99.2ZM175.9 96.8L176.6 98.7L178.6 98.7L177.0 99.9L177.5 101.9L175.9 100.7L174.3 101.9L174.8 99.9L173.2 98.7L175.2 98.7ZM179.3 94.3L180.0 96.2L182.0 96.2L180.4 97.4L180.9 99.4L179.3 98.2L177.7 99.4L178.2 97.4L176.6 96.2L178.6 96.2ZM179.8 95.2L180.5 97.1L182.5 97.1L180.9 98.3L181.4 100.3L179.8 99.1L178.2 100.3L178.7 98.3L177.1 97.1L179.1 97.1ZM177.8 95.1L178.5 97.0L180.5 97.0L178.9 98.2L179.4 100.2L177.8 99.0L176.2 100.2L176.7 98.2L175.1 97.0L177.1 97.0ZM179.5 96.0L180.2 97.9L182.2 97.9L180.6 99.1L181.1 101.1L179.5 99.9L177.9 101.1L178.4 99.1L176.8 97.9L178.8 97.9ZM196.1 75.3L196.8 77.2L198.8 77.2L197.2 78.4L197.7 80.4L196.1 79.2L194.5 80.4L195.0 78.4L193.4 77.2L195.4 77.2ZM197.4 74.3L198.1 76.2L200.1 76.2L198.5 77.4L199.0 79.4L197.4 78.2L195.8 79.4L196.3 77.4L194.7 76.2L196.7 76.2ZM175.8 93.5L176.5 95.4L178.5 95.4L176.9 96.6L177.4 98.6L175.8 97.4L174.2 98.6L174.7 96.6L173.1 95.4L175.1 95.4ZM173.3 96.0L174.0 97.9L176.0 97.9L174.4 99.1L174.9 101.1L173.3 99.9L171.7 101.1L172.2 99.1L170.6 97.9L172.6 97.9ZM175.9 92.9L176.6 94.8L178.6 94.8L177.0 96.0L177.5 98.0L175.9 96.8L174.3 98.0L174.8 96.0L173.2 94.8L175.2 94.8ZM174.0 92.9L174.7 94.8L176.7 94.8L175.1 96.0L175.6 98.0L174.0 96.8L172.4 98.0L172.9 96.0L171.3 94.8L173.3 94.8ZM174.1 93.1L174.8 95.0L176.8 95.0L175.2 96.2L175.7 98.2L174.1 97.0L172.5 98.2L173.0 96.2L171.4 95.0L173.4 95.0ZM176.6 93.0L177.3 94.9L179.3 94.9L177.7 96.1L178.2 98.1L176.6 96.9L175.0 98.1L175.5 96.1L173.9 94.9L175.9 94.9ZM157.8 115.6L158.5 117.5L160.5 117.5L158.9 118.7L159.4 120.7L157.8 119.5L156.2 120.7L156.7 118.7L155.1 117.5L157.1 117.5ZM158.8 116.8L159.5 118.7L161.5 118.7L159.9 119.9L160.4 121.9L158.8 120.7L157.2 121.9L157.7 119.9L156.1 118.7L158.1 118.7ZM155.6 113.9L156.3 115.8L158.3 115.8L156.7 117.0L157.2 119.0L155.6 117.8L154.0 119.0L154.5 117.0L152.9 115.8L154.9 115.8ZM160.4 113.9L161.1 115.8L163.1 115.8L161.5 117.0L162.0 119.0L160.4 117.8L158.8 119.0L159.3 117.0L157.7 115.8L159.7 115.8ZM155.6 119.6L156.3 121.5L158.3 121.5L156.7 122.7L157.2 124.7L155.6 123.5L154.0 124.7L154.5 122.7L152.9 121.5L154.9 121.5ZM157.2 115.6L157.9 117.5L159.9 117.5L158.3 118.7L158.8 120.7L157.2 119.5L155.6 120.7L156.1 118.7L154.5 117.5L156.5 117.5ZM167.6 109.9L168.3 111.8L170.3 111.8L168.7 113.0L169.2 115.0L167.6 113.8L166.0 115.0L166.5 113.0L164.9 111.8L166.9 111.8ZM148.8 131.0L149.5 132.9L151.5 132.9L149.9 134.1L150.4 136.1L148.8 134.9L147.2 136.1L147.7 134.1L146.1 132.9L148.1 132.9ZM148.3 128.0L149.0 129.9L151.0 129.9L149.4 131.1L149.9 133.1L148.3 131.9L146.7 133.1L147.2 131.1L145.6 129.9L147.6 129.9ZM150.3 130.3L151.0 132.2L153.0 132.2L151.4 133.4L151.9 135.4L150.3 134.2L148.7 135.4L149.2 133.4L147.6 132.2L149.6 132.2ZM150.0 131.0L150.7 132.9L152.7 132.9L151.1 134.1L151.6 136.1L150.0 134.9L148.4 136.1L148.9 134.1L147.3 132.9L149.3 132.9ZM148.1 128.3L148.8 130.2L150.8 130.2L149.2 131.4L149.7 133.4L148.1 132.2L146.5 133.4L147.0 131.4L145.4 130.2L147.4 130.2ZM173.2 104.4L173.9 106.3L175.9 106.3L174.3 107.5L174.8 109.5L173.2 108.3L171.6 109.5L172.1 107.5L170.5 106.3L172.5 106.3ZM198.3 77.2L199.0 79.1L201.0 79.1L199.4 80.3L199.9 82.3L198.3 81.1L196.7 82.3L197.2 80.3L195.6 79.1L197.6 79.1ZM155.9 121.3L156.6 123.2L158.6 123.2L157.0 124.4L157.5 126.4L155.9 125.2L154.3 126.4L154.8 124.4L153.2 123.2L155.2 123.2ZM182.8 83.1L183.5 85.0L185.5 85.0L183.9 86.2L184.4 88.2L182.8 87.0L181.2 88.2L181.7 86.2L180.1 85.0L182.1 85.0ZM185.6 83.0L186.3 84.9L188.3 84.9L186.7 86.1L187.2 88.1L185.6 86.9L184.0 88.1L184.5 86.1L182.9 84.9L184.9 84.9Z" fill="#000"/>
<line x1="42.00" y1="220.80" x2="259.80" y2="19.60" stroke="#4e40b0" stroke-width="1.15" stroke-dasharray="4.45 2.19"/>
<rect x="42.00" y="17.10" width="219.70" height="203.70" fill="none" stroke="#000" stroke-width="1.25"/>
<line x1="50.14" y1="220.80" x2="50.14" y2="224.60" stroke="#777" stroke-width="0.70"/>
<line x1="38.20" y1="213.26" x2="42.00" y2="213.26" stroke="#777" stroke-width="0.70"/>
<text transform="translate(50.14 235.70) scale(1 1.100)" font-size="9.70" text-anchor="middle" stroke="#111" stroke-width="0.22">0.35</text>
<text transform="translate(32.80 213.26) rotate(-90)" font-size="9.70" text-anchor="middle" stroke="#111" stroke-width="0.22">0.35</text>
<line x1="90.82" y1="220.80" x2="90.82" y2="224.60" stroke="#777" stroke-width="0.70"/>
<line x1="38.20" y1="175.53" x2="42.00" y2="175.53" stroke="#777" stroke-width="0.70"/>
<text transform="translate(90.82 235.70) scale(1 1.100)" font-size="9.70" text-anchor="middle" stroke="#111" stroke-width="0.22">0.40</text>
<text transform="translate(32.80 175.53) rotate(-90)" font-size="9.70" text-anchor="middle" stroke="#111" stroke-width="0.22">0.40</text>
<line x1="131.51" y1="220.80" x2="131.51" y2="224.60" stroke="#777" stroke-width="0.70"/>
<line x1="38.20" y1="137.81" x2="42.00" y2="137.81" stroke="#777" stroke-width="0.70"/>
<text transform="translate(131.51 235.70) scale(1 1.100)" font-size="9.70" text-anchor="middle" stroke="#111" stroke-width="0.22">0.45</text>
<text transform="translate(32.80 137.81) rotate(-90)" font-size="9.70" text-anchor="middle" stroke="#111" stroke-width="0.22">0.45</text>
<line x1="172.19" y1="220.80" x2="172.19" y2="224.60" stroke="#777" stroke-width="0.70"/>
<line x1="38.20" y1="100.09" x2="42.00" y2="100.09" stroke="#777" stroke-width="0.70"/>
<text transform="translate(172.19 235.70) scale(1 1.100)" font-size="9.70" text-anchor="middle" stroke="#111" stroke-width="0.22">0.50</text>
<text transform="translate(32.80 100.09) rotate(-90)" font-size="9.70" text-anchor="middle" stroke="#111" stroke-width="0.22">0.50</text>
<line x1="212.88" y1="220.80" x2="212.88" y2="224.60" stroke="#777" stroke-width="0.70"/>
<line x1="38.20" y1="62.37" x2="42.00" y2="62.37" stroke="#777" stroke-width="0.70"/>
<text transform="translate(212.88 235.70) scale(1 1.100)" font-size="9.70" text-anchor="middle" stroke="#111" stroke-width="0.22">0.55</text>
<text transform="translate(32.80 62.37) rotate(-90)" font-size="9.70" text-anchor="middle" stroke="#111" stroke-width="0.22">0.55</text>
<line x1="253.56" y1="220.80" x2="253.56" y2="224.60" stroke="#777" stroke-width="0.70"/>
<line x1="38.20" y1="24.64" x2="42.00" y2="24.64" stroke="#777" stroke-width="0.70"/>
<text transform="translate(253.56 235.70) scale(1 1.100)" font-size="9.70" text-anchor="middle" stroke="#111" stroke-width="0.22">0.60</text>
<text transform="translate(32.80 24.64) rotate(-90)" font-size="9.70" text-anchor="middle" stroke="#111" stroke-width="0.22">0.60</text>
<text transform="translate(151.85 8.75) scale(1 1.100)" font-size="7.70" text-anchor="middle" font-weight="bold" stroke="#111" stroke-width="0.17">PTF-7</text>
<text transform="translate(100.80 249.20) scale(1 1.100)" font-size="9.75" stroke="#111" stroke-width="0.22">Measured <tspan font-size="11.3">θ</tspan><tspan font-size="7.4" dy="1.8">S</tspan><tspan dy="-1.8" dx="3.4">[cm</tspan><tspan font-size="7.0" dy="-3.4">3</tspan><tspan dy="3.4">/cm</tspan><tspan font-size="7.0" dy="-3.4">3</tspan><tspan dy="3.4">]</tspan></text>
<text transform="translate(15.70 169.90) rotate(-90)" font-size="9.75" stroke="#111" stroke-width="0.22">Estimated <tspan font-size="11.3">θ</tspan><tspan font-size="7.4" dy="1.8">S</tspan><tspan dy="-1.8" dx="3.4">[cm</tspan><tspan font-size="7.0" dy="-3.4">3</tspan><tspan dy="3.4">/cm</tspan><tspan font-size="7.0" dy="-3.4">3</tspan><tspan dy="3.4">]</tspan></text>
<text transform="translate(58.00 38.50)" font-size="13.42" text-anchor="middle" fill="#4636a6" stroke="#4636a6" stroke-width="0.08">θ</text>
<text transform="translate(64.80 41.79)" font-size="9.52" text-anchor="middle" font-weight="bold" fill="#4636a6" stroke="#4636a6" stroke-width="0.22">S</text>
<text transform="translate(73.90 38.50)" font-size="12.20" text-anchor="middle" fill="#4636a6" stroke="#4636a6" stroke-width="0.08">=</text>
<text transform="translate(85.00 38.50)" font-size="12.20" text-anchor="middle" font-weight="bold" fill="#4636a6" stroke="#4636a6" stroke-width="0.28">a</text>
<text transform="translate(94.30 38.50)" font-size="12.20" text-anchor="middle" fill="#4636a6" stroke="#4636a6" stroke-width="0.08">+</text>
<text transform="translate(104.60 38.50)" font-size="12.20" text-anchor="middle" font-weight="bold" fill="#4636a6" stroke="#4636a6" stroke-width="0.28">b</text>
<text transform="translate(115.10 38.50)" font-size="12.20" text-anchor="middle" fill="#4636a6" stroke="#4636a6" stroke-width="0.08">·</text>
<text transform="translate(127.95 38.50)" font-size="12.20" text-anchor="middle" font-weight="bold" fill="#4636a6" stroke="#4636a6" stroke-width="0.28">Cl</text>
<text transform="translate(137.25 33.01)" font-size="8.54" text-anchor="middle" fill="#4636a6" stroke="#4636a6" stroke-width="0.08">2</text>
<text transform="translate(145.50 38.50)" font-size="12.20" text-anchor="middle" fill="#4636a6" stroke="#4636a6" stroke-width="0.08">+</text>
<text transform="translate(155.30 38.50)" font-size="12.20" text-anchor="middle" font-weight="bold" fill="#4636a6" stroke="#4636a6" stroke-width="0.28">c</text>
<text transform="translate(165.40 38.50)" font-size="12.20" text-anchor="middle" fill="#4636a6" stroke="#4636a6" stroke-width="0.08">·</text>
<text transform="translate(178.40 38.50)" font-size="12.20" text-anchor="middle" font-weight="bold" fill="#4636a6" stroke="#4636a6" stroke-width="0.28">Cl</text>
<text transform="translate(190.60 38.50)" font-size="12.20" text-anchor="middle" fill="#4636a6" stroke="#4636a6" stroke-width="0.08">+</text>
<text transform="translate(200.70 38.50)" font-size="12.20" text-anchor="middle" font-weight="bold" fill="#4636a6" stroke="#4636a6" stroke-width="0.28">d</text>
<text transform="translate(211.50 38.50)" font-size="12.20" text-anchor="middle" fill="#4636a6" stroke="#4636a6" stroke-width="0.08">·</text>
<text transform="translate(226.80 38.50)" font-size="12.20" text-anchor="middle" font-weight="bold" fill="#4636a6" stroke="#4636a6" stroke-width="0.28">BD</text>
<text transform="translate(54.50 56.50) scale(1 1.040)" font-size="6.45" stroke="#111" stroke-width="0.15"><tspan font-weight="bold">a</tspan> = 0.716 ± 0.0112</text>
<text transform="translate(54.50 67.77) scale(1 1.040)" font-size="6.45" stroke="#111" stroke-width="0.15"><tspan font-weight="bold">b</tspan> = 0.3864 ± 0.0205</text>
<text transform="translate(54.50 79.04) scale(1 1.040)" font-size="6.45" stroke="#111" stroke-width="0.15"><tspan font-weight="bold">c</tspan> = <tspan dx="0.4">−</tspan><tspan dx="0.9">0.0856 ± 0.0092</tspan></text>
<text transform="translate(54.50 90.31) scale(1 1.040)" font-size="6.45" stroke="#111" stroke-width="0.15"><tspan font-weight="bold">d</tspan> = <tspan dx="0.4">−</tspan><tspan dx="0.9">0.1918 ± 0.0087</tspan></text>
<text transform="translate(237.70 46.00) scale(1 1.200)" font-size="5.90" font-weight="bold" fill="#4636a6" stroke="#4636a6" stroke-width="0.13">1:1</text>
<rect x="174.50" y="122.00" width="77.50" height="83.50" fill="#fff"/>
<text transform="translate(196.90 132.80) scale(1 1.100)" font-size="6.30" fill="#4636a6" stroke="#4636a6" stroke-width="0.14"><tspan font-weight="bold">R</tspan><tspan font-size="4.4" dy="-2.4">2</tspan><tspan dy="2.4"> = 0.9542</tspan></text>
<rect x="194.34" y="182.23" width="3.91" height="0.87" fill="url(#hatch)" stroke="#857dcb" stroke-width="0.55"/>
<rect x="198.25" y="180.93" width="3.91" height="2.17" fill="url(#hatch)" stroke="#857dcb" stroke-width="0.55"/>
<rect x="202.16" y="174.42" width="3.91" height="8.68" fill="url(#hatch)" stroke="#857dcb" stroke-width="0.55"/>
<rect x="206.07" y="165.74" width="3.91" height="17.36" fill="url(#hatch)" stroke="#857dcb" stroke-width="0.55"/>
<rect x="209.98" y="151.42" width="3.91" height="31.68" fill="url(#hatch)" stroke="#857dcb" stroke-width="0.55"/>
<rect x="213.89" y="149.25" width="3.91" height="33.85" fill="url(#hatch)" stroke="#857dcb" stroke-width="0.55"/>
<rect x="217.80" y="140.13" width="3.91" height="42.97" fill="url(#hatch)" stroke="#857dcb" stroke-width="0.55"/>
<rect x="221.71" y="152.72" width="3.91" height="30.38" fill="url(#hatch)" stroke="#857dcb" stroke-width="0.55"/>
<rect x="225.62" y="162.27" width="3.91" height="20.83" fill="url(#hatch)" stroke="#857dcb" stroke-width="0.55"/>
<rect x="229.53" y="178.76" width="3.91" height="4.34" fill="url(#hatch)" stroke="#857dcb" stroke-width="0.55"/>
<rect x="233.44" y="181.80" width="3.91" height="1.30" fill="url(#hatch)" stroke="#857dcb" stroke-width="0.55"/>
<rect x="192.60" y="138.20" width="47.00" height="46.10" fill="none" stroke="#000" stroke-width="0.9"/>
<line x1="194.34" y1="184.30" x2="194.34" y2="187.70" stroke="#000" stroke-width="0.80"/>
<text transform="translate(194.34 198.90) scale(1 1.100)" font-size="4.70" text-anchor="middle" stroke="#111" stroke-width="0.11">-0.03</text>
<line x1="202.16" y1="184.30" x2="202.16" y2="187.70" stroke="#000" stroke-width="0.80"/>
<line x1="209.98" y1="184.30" x2="209.98" y2="187.70" stroke="#000" stroke-width="0.80"/>
<line x1="217.80" y1="184.30" x2="217.80" y2="187.70" stroke="#000" stroke-width="0.80"/>
<text transform="translate(217.80 198.90) scale(1 1.100)" font-size="4.70" text-anchor="middle" stroke="#111" stroke-width="0.11">0.00</text>
<line x1="225.62" y1="184.30" x2="225.62" y2="187.70" stroke="#000" stroke-width="0.80"/>
<line x1="233.44" y1="184.30" x2="233.44" y2="187.70" stroke="#000" stroke-width="0.80"/>
<text transform="translate(233.44 198.90) scale(1 1.100)" font-size="4.70" text-anchor="middle" stroke="#111" stroke-width="0.11">0.02</text>
<line x1="188.20" y1="183.10" x2="192.60" y2="183.10" stroke="#000" stroke-width="0.80"/>
<text transform="translate(183.60 183.10) rotate(-90) scale(1 1.100)" font-size="4.80" text-anchor="middle" stroke="#111" stroke-width="0.11">0</text>
<line x1="188.20" y1="174.42" x2="192.60" y2="174.42" stroke="#000" stroke-width="0.80"/>
<text transform="translate(183.60 174.42) rotate(-90) scale(1 1.100)" font-size="4.80" text-anchor="middle" stroke="#111" stroke-width="0.11">20</text>
<line x1="188.20" y1="165.74" x2="192.60" y2="165.74" stroke="#000" stroke-width="0.80"/>
<line x1="188.20" y1="157.06" x2="192.60" y2="157.06" stroke="#000" stroke-width="0.80"/>
<text transform="translate(183.60 157.06) rotate(-90) scale(1 1.100)" font-size="4.80" text-anchor="middle" stroke="#111" stroke-width="0.11">60</text>
<line x1="188.20" y1="148.38" x2="192.60" y2="148.38" stroke="#000" stroke-width="0.80"/>
<line x1="188.20" y1="139.70" x2="192.60" y2="139.70" stroke="#000" stroke-width="0.80"/>
<text transform="translate(183.60 139.70) rotate(-90) scale(1 1.100)" font-size="4.80" text-anchor="middle" stroke="#111" stroke-width="0.11">100</text>
<text transform="translate(216.10 206.30) scale(1 1.100)" font-size="4.60" text-anchor="middle" stroke="#111" stroke-width="0.10">Residuals</text>
<text transform="translate(176.60 161.25) rotate(-90) scale(1 1.100)" font-size="4.60" text-anchor="middle" stroke="#111" stroke-width="0.10">N</text>
<line x1="335.14" y1="17.10" x2="335.14" y2="220.80" stroke="#f4f4f4" stroke-width="0.60"/>
<line x1="327.00" y1="213.26" x2="546.70" y2="213.26" stroke="#f4f4f4" stroke-width="0.60"/>
<line x1="375.82" y1="17.10" x2="375.82" y2="220.80" stroke="#f4f4f4" stroke-width="0.60"/>
<line x1="327.00" y1="175.53" x2="546.70" y2="175.53" stroke="#f4f4f4" stroke-width="0.60"/>
<line x1="416.51" y1="17.10" x2="416.51" y2="220.80" stroke="#f4f4f4" stroke-width="0.60"/>
<line x1="327.00" y1="137.81" x2="546.70" y2="137.81" stroke="#f4f4f4" stroke-width="0.60"/>
<line x1="457.19" y1="17.10" x2="457.19" y2="220.80" stroke="#f4f4f4" stroke-width="0.60"/>
<line x1="327.00" y1="100.09" x2="546.70" y2="100.09" stroke="#f4f4f4" stroke-width="0.60"/>
<line x1="497.88" y1="17.10" x2="497.88" y2="220.80" stroke="#f4f4f4" stroke-width="0.60"/>
<line x1="327.00" y1="62.37" x2="546.70" y2="62.37" stroke="#f4f4f4" stroke-width="0.60"/>
<line x1="538.56" y1="17.10" x2="538.56" y2="220.80" stroke="#f4f4f4" stroke-width="0.60"/>
<line x1="327.00" y1="24.64" x2="546.70" y2="24.64" stroke="#f4f4f4" stroke-width="0.60"/>
<path d="M342.0 189.9L342.7 191.8L344.7 191.8L343.1 193.0L343.6 195.0L342.0 193.8L340.4 195.0L340.9 193.0L339.3 191.8L341.3 191.8ZM342.0 196.7L342.7 198.6L344.7 198.6L343.1 199.8L343.6 201.8L342.0 200.6L340.4 201.8L340.9 199.8L339.3 198.6L341.3 198.6ZM360.3 178.6L361.0 180.5L363.0 180.5L361.4 181.7L361.9 183.7L360.3 182.5L358.7 183.7L359.2 181.7L357.6 180.5L359.6 180.5ZM360.3 183.5L361.0 185.4L363.0 185.4L361.4 186.6L361.9 188.6L360.3 187.4L358.7 188.6L359.2 186.6L357.6 185.4L359.6 185.4ZM363.3 176.4L364.0 178.3L366.0 178.3L364.4 179.5L364.9 181.5L363.3 180.3L361.7 181.5L362.2 179.5L360.6 178.3L362.6 178.3ZM366.2 177.2L366.9 179.1L368.9 179.1L367.3 180.3L367.8 182.3L366.2 181.1L364.6 182.3L365.1 180.3L363.5 179.1L365.5 179.1ZM367.0 179.4L367.7 181.3L369.7 181.3L368.1 182.5L368.6 184.5L367.0 183.3L365.4 184.5L365.9 182.5L364.3 181.3L366.3 181.3ZM369.2 179.4L369.9 181.3L371.9 181.3L370.3 182.5L370.8 184.5L369.2 183.3L367.6 184.5L368.1 182.5L366.5 181.3L368.5 181.3ZM368.5 182.3L369.2 184.2L371.2 184.2L369.6 185.4L370.1 187.4L368.5 186.2L366.9 187.4L367.4 185.4L365.8 184.2L367.8 184.2ZM365.5 180.9L366.2 182.8L368.2 182.8L366.6 184.0L367.1 186.0L365.5 184.8L363.9 186.0L364.4 184.0L362.8 182.8L364.8 182.8ZM369.9 171.3L370.6 173.2L372.6 173.2L371.0 174.4L371.5 176.4L369.9 175.2L368.3 176.4L368.8 174.4L367.2 173.2L369.2 173.2ZM372.9 172.4L373.6 174.3L375.6 174.3L374.0 175.5L374.5 177.5L372.9 176.3L371.3 177.5L371.8 175.5L370.2 174.3L372.2 174.3ZM378.8 168.3L379.5 170.2L381.5 170.2L379.9 171.4L380.4 173.4L378.8 172.2L377.2 173.4L377.7 171.4L376.1 170.2L378.1 170.2ZM379.6 172.0L380.3 173.9L382.3 173.9L380.7 175.1L381.2 177.1L379.6 175.9L378.0 177.1L378.5 175.1L376.9 173.9L378.9 173.9ZM381.8 169.8L382.5 171.7L384.5 171.7L382.9 172.9L383.4 174.9L381.8 173.7L380.2 174.9L380.7 172.9L379.1 171.7L381.1 171.7ZM384.0 168.3L384.7 170.2L386.7 170.2L385.1 171.4L385.6 173.4L384.0 172.2L382.4 173.4L382.9 171.4L381.3 170.2L383.3 170.2ZM384.7 170.5L385.4 172.4L387.4 172.4L385.8 173.6L386.3 175.6L384.7 174.4L383.1 175.6L383.6 173.6L382.0 172.4L384.0 172.4ZM381.8 160.9L382.5 162.8L384.5 162.8L382.9 164.0L383.4 166.0L381.8 164.8L380.2 166.0L380.7 164.0L379.1 162.8L381.1 162.8ZM384.0 161.6L384.7 163.5L386.7 163.5L385.1 164.7L385.6 166.7L384.0 165.5L382.4 166.7L382.9 164.7L381.3 163.5L383.3 163.5ZM381.8 163.9L382.5 165.8L384.5 165.8L382.9 167.0L383.4 169.0L381.8 167.8L380.2 169.0L380.7 167.0L379.1 165.8L381.1 165.8ZM383.3 165.3L384.0 167.2L386.0 167.2L384.4 168.4L384.9 170.4L383.3 169.2L381.7 170.4L382.2 168.4L380.6 167.2L382.6 167.2ZM381.0 166.8L381.7 168.7L383.7 168.7L382.1 169.9L382.6 171.9L381.0 170.7L379.4 171.9L379.9 169.9L378.3 168.7L380.3 168.7ZM388.4 165.3L389.1 167.2L391.1 167.2L389.5 168.4L390.0 170.4L388.4 169.2L386.8 170.4L387.3 168.4L385.7 167.2L387.7 167.2ZM390.9 163.9L391.6 165.8L393.6 165.8L392.0 167.0L392.5 169.0L390.9 167.8L389.3 169.0L389.8 167.0L388.2 165.8L390.2 165.8ZM401.0 157.9L401.7 159.8L403.7 159.8L402.1 161.0L402.6 163.0L401.0 161.8L399.4 163.0L399.9 161.0L398.3 159.8L400.3 159.8ZM403.2 157.2L403.9 159.1L405.9 159.1L404.3 160.3L404.8 162.3L403.2 161.1L401.6 162.3L402.1 160.3L400.5 159.1L402.5 159.1ZM381.7 161.4L382.4 163.3L384.4 163.3L382.8 164.5L383.3 166.5L381.7 165.3L380.1 166.5L380.6 164.5L379.0 163.3L381.0 163.3ZM383.9 160.7L384.6 162.6L386.6 162.6L385.0 163.8L385.5 165.8L383.9 164.6L382.3 165.8L382.8 163.8L381.2 162.6L383.2 162.6ZM394.2 154.0L394.9 155.9L396.9 155.9L395.3 157.1L395.8 159.1L394.2 157.9L392.6 159.1L393.1 157.1L391.5 155.9L393.5 155.9ZM399.4 153.3L400.1 155.2L402.1 155.2L400.5 156.4L401.0 158.4L399.4 157.2L397.8 158.4L398.3 156.4L396.7 155.2L398.7 155.2ZM401.6 156.3L402.3 158.2L404.3 158.2L402.7 159.4L403.2 161.4L401.6 160.2L400.0 161.4L400.5 159.4L398.9 158.2L400.9 158.2ZM400.1 158.5L400.8 160.4L402.8 160.4L401.2 161.6L401.7 163.6L400.1 162.4L398.5 163.6L399.0 161.6L397.4 160.4L399.4 160.4ZM404.6 154.8L405.3 156.7L407.3 156.7L405.7 157.9L406.2 159.9L404.6 158.7L403.0 159.9L403.5 157.9L401.9 156.7L403.9 156.7ZM397.0 154.7L397.7 156.6L399.7 156.6L398.1 157.8L398.6 159.8L397.0 158.6L395.4 159.8L395.9 157.8L394.3 156.6L396.3 156.6ZM402.5 152.2L403.2 154.1L405.2 154.1L403.6 155.3L404.1 157.3L402.5 156.1L400.9 157.3L401.4 155.3L399.8 154.1L401.8 154.1ZM433.7 94.1L434.4 96.0L436.4 96.0L434.8 97.2L435.3 99.2L433.7 98.0L432.1 99.2L432.6 97.2L431.0 96.0L433.0 96.0ZM418.9 100.8L419.6 102.7L421.6 102.7L420.0 103.9L420.5 105.9L418.9 104.7L417.3 105.9L417.8 103.9L416.2 102.7L418.2 102.7ZM418.9 119.1L419.6 121.0L421.6 121.0L420.0 122.2L420.5 124.2L418.9 123.0L417.3 124.2L417.8 122.2L416.2 121.0L418.2 121.0ZM427.8 114.1L428.5 116.0L430.5 116.0L428.9 117.2L429.4 119.2L427.8 118.0L426.2 119.2L426.7 117.2L425.1 116.0L427.1 116.0ZM449.6 82.1L450.3 84.0L452.3 84.0L450.7 85.2L451.2 87.2L449.6 86.0L448.0 87.2L448.5 85.2L446.9 84.0L448.9 84.0ZM495.5 79.6L496.2 81.5L498.2 81.5L496.6 82.7L497.1 84.7L495.5 83.5L493.9 84.7L494.4 82.7L492.8 81.5L494.8 81.5ZM464.4 82.1L465.1 84.0L467.1 84.0L465.5 85.2L466.0 87.2L464.4 86.0L462.8 87.2L463.3 85.2L461.7 84.0L463.7 84.0ZM483.8 79.2L484.5 81.1L486.5 81.1L484.9 82.3L485.4 84.3L483.8 83.1L482.2 84.3L482.7 82.3L481.1 81.1L483.1 81.1ZM487.0 67.7L487.7 69.6L489.7 69.6L488.1 70.8L488.6 72.8L487.0 71.6L485.4 72.8L485.9 70.8L484.3 69.6L486.3 69.6ZM490.5 66.2L491.2 68.1L493.2 68.1L491.6 69.3L492.1 71.3L490.5 70.1L488.9 71.3L489.4 69.3L487.8 68.1L489.8 68.1ZM495.5 64.5L496.2 66.4L498.2 66.4L496.6 67.6L497.1 69.6L495.5 68.4L493.9 69.6L494.4 67.6L492.8 66.4L494.8 66.4ZM486.5 71.7L487.2 73.6L489.2 73.6L487.6 74.8L488.1 76.8L486.5 75.6L484.9 76.8L485.4 74.8L483.8 73.6L485.8 73.6ZM449.2 111.8L449.9 113.7L451.9 113.7L450.3 114.9L450.8 116.9L449.2 115.7L447.6 116.9L448.1 114.9L446.5 113.7L448.5 113.7ZM448.6 114.7L449.3 116.6L451.3 116.6L449.7 117.8L450.2 119.8L448.6 118.6L447.0 119.8L447.5 117.8L445.9 116.6L447.9 116.6ZM445.7 105.4L446.4 107.3L448.4 107.3L446.8 108.5L447.3 110.5L445.7 109.3L444.1 110.5L444.6 108.5L443.0 107.3L445.0 107.3ZM477.1 84.7L477.8 86.6L479.8 86.6L478.2 87.8L478.7 89.8L477.1 88.6L475.5 89.8L476.0 87.8L474.4 86.6L476.4 86.6ZM467.6 90.9L468.3 92.8L470.3 92.8L468.7 94.0L469.2 96.0L467.6 94.8L466.0 96.0L466.5 94.0L464.9 92.8L466.9 92.8ZM460.1 92.0L460.8 93.9L462.8 93.9L461.2 95.1L461.7 97.1L460.1 95.9L458.5 97.1L459.0 95.1L457.4 93.9L459.4 93.9ZM402.4 149.5L403.1 151.4L405.1 151.4L403.5 152.6L404.0 154.6L402.4 153.4L400.8 154.6L401.3 152.6L399.7 151.4L401.7 151.4ZM424.2 131.4L424.9 133.3L426.9 133.3L425.3 134.5L425.8 136.5L424.2 135.3L422.6 136.5L423.1 134.5L421.5 133.3L423.5 133.3ZM450.8 105.8L451.5 107.7L453.5 107.7L451.9 108.9L452.4 110.9L450.8 109.7L449.2 110.9L449.7 108.9L448.1 107.7L450.1 107.7ZM449.0 103.1L449.7 105.0L451.7 105.0L450.1 106.2L450.6 108.2L449.0 107.0L447.4 108.2L447.9 106.2L446.3 105.0L448.3 105.0ZM481.7 76.1L482.4 78.0L484.4 78.0L482.8 79.2L483.3 81.2L481.7 80.0L480.1 81.2L480.6 79.2L479.0 78.0L481.0 78.0ZM428.7 121.8L429.4 123.7L431.4 123.7L429.8 124.9L430.3 126.9L428.7 125.7L427.1 126.9L427.6 124.9L426.0 123.7L428.0 123.7ZM438.1 122.0L438.8 123.9L440.8 123.9L439.2 125.1L439.7 127.1L438.1 125.9L436.5 127.1L437.0 125.1L435.4 123.9L437.4 123.9ZM482.3 78.0L483.0 79.9L485.0 79.9L483.4 81.1L483.9 83.1L482.3 81.9L480.7 83.1L481.2 81.1L479.6 79.9L481.6 79.9ZM446.1 109.1L446.8 111.0L448.8 111.0L447.2 112.2L447.7 114.2L446.1 113.0L444.5 114.2L445.0 112.2L443.4 111.0L445.4 111.0ZM475.7 84.0L476.4 85.9L478.4 85.9L476.8 87.1L477.3 89.1L475.7 87.9L474.1 89.1L474.6 87.1L473.0 85.9L475.0 85.9ZM412.3 142.3L413.0 144.2L415.0 144.2L413.4 145.4L413.9 147.4L412.3 146.2L410.7 147.4L411.2 145.4L409.6 144.2L411.6 144.2ZM477.5 81.9L478.2 83.8L480.2 83.8L478.6 85.0L479.1 87.0L477.5 85.8L475.9 87.0L476.4 85.0L474.8 83.8L476.8 83.8ZM413.6 142.5L414.3 144.4L416.3 144.4L414.7 145.6L415.2 147.6L413.6 146.4L412.0 147.6L412.5 145.6L410.9 144.4L412.9 144.4ZM412.2 139.3L412.9 141.2L414.9 141.2L413.3 142.4L413.8 144.4L412.2 143.2L410.6 144.4L411.1 142.4L409.5 141.2L411.5 141.2ZM430.2 126.4L430.9 128.3L432.9 128.3L431.3 129.5L431.8 131.5L430.2 130.3L428.6 131.5L429.1 129.5L427.5 128.3L429.5 128.3ZM410.6 146.6L411.3 148.5L413.3 148.5L411.7 149.7L412.2 151.7L410.6 150.5L409.0 151.7L409.5 149.7L407.9 148.5L409.9 148.5ZM475.2 81.4L475.9 83.3L477.9 83.3L476.3 84.5L476.8 86.5L475.2 85.3L473.6 86.5L474.1 84.5L472.5 83.3L474.5 83.3ZM429.4 126.7L430.1 128.6L432.1 128.6L430.5 129.8L431.0 131.8L429.4 130.6L427.8 131.8L428.3 129.8L426.7 128.6L428.7 128.6ZM424.3 132.4L425.0 134.3L427.0 134.3L425.4 135.5L425.9 137.5L424.3 136.3L422.7 137.5L423.2 135.5L421.6 134.3L423.6 134.3ZM447.4 109.9L448.1 111.8L450.1 111.8L448.5 113.0L449.0 115.0L447.4 113.8L445.8 115.0L446.3 113.0L444.7 111.8L446.7 111.8ZM479.5 80.5L480.2 82.4L482.2 82.4L480.6 83.6L481.1 85.6L479.5 84.4L477.9 85.6L478.4 83.6L476.8 82.4L478.8 82.4ZM419.2 136.6L419.9 138.5L421.9 138.5L420.3 139.7L420.8 141.7L419.2 140.5L417.6 141.7L418.1 139.7L416.5 138.5L418.5 138.5ZM485.7 71.7L486.4 73.6L488.4 73.6L486.8 74.8L487.3 76.8L485.7 75.6L484.1 76.8L484.6 74.8L483.0 73.6L485.0 73.6ZM423.9 131.2L424.6 133.1L426.6 133.1L425.0 134.3L425.5 136.3L423.9 135.1L422.3 136.3L422.8 134.3L421.2 133.1L423.2 133.1ZM458.3 92.6L459.0 94.5L461.0 94.5L459.4 95.7L459.9 97.7L458.3 96.5L456.7 97.7L457.2 95.7L455.6 94.5L457.6 94.5ZM417.8 138.5L418.5 140.4L420.5 140.4L418.9 141.6L419.4 143.6L417.8 142.4L416.2 143.6L416.7 141.6L415.1 140.4L417.1 140.4ZM460.0 91.8L460.7 93.7L462.7 93.7L461.1 94.9L461.6 96.9L460.0 95.7L458.4 96.9L458.9 94.9L457.3 93.7L459.3 93.7ZM426.8 126.9L427.5 128.8L429.5 128.8L427.9 130.0L428.4 132.0L426.8 130.8L425.2 132.0L425.7 130.0L424.1 128.8L426.1 128.8ZM436.4 117.4L437.1 119.3L439.1 119.3L437.5 120.5L438.0 122.5L436.4 121.3L434.8 122.5L435.3 120.5L433.7 119.3L435.7 119.3ZM464.1 87.8L464.8 89.7L466.8 89.7L465.2 90.9L465.7 92.9L464.1 91.7L462.5 92.9L463.0 90.9L461.4 89.7L463.4 89.7ZM404.4 146.9L405.1 148.8L407.1 148.8L405.5 150.0L406.0 152.0L404.4 150.8L402.8 152.0L403.3 150.0L401.7 148.8L403.7 148.8ZM488.4 69.9L489.1 71.8L491.1 71.8L489.5 73.0L490.0 75.0L488.4 73.8L486.8 75.0L487.3 73.0L485.7 71.8L487.7 71.8ZM447.3 106.8L448.0 108.7L450.0 108.7L448.4 109.9L448.9 111.9L447.3 110.7L445.7 111.9L446.2 109.9L444.6 108.7L446.6 108.7ZM408.2 142.0L408.9 143.9L410.9 143.9L409.3 145.1L409.8 147.1L408.2 145.9L406.6 147.1L407.1 145.1L405.5 143.9L407.5 143.9ZM468.6 81.6L469.3 83.5L471.3 83.5L469.7 84.7L470.2 86.7L468.6 85.5L467.0 86.7L467.5 84.7L465.9 83.5L467.9 83.5ZM484.6 76.5L485.3 78.4L487.3 78.4L485.7 79.6L486.2 81.6L484.6 80.4L483.0 81.6L483.5 79.6L481.9 78.4L483.9 78.4ZM476.9 84.0L477.6 85.9L479.6 85.9L478.0 87.1L478.5 89.1L476.9 87.9L475.3 89.1L475.8 87.1L474.2 85.9L476.2 85.9ZM437.7 110.3L438.4 112.2L440.4 112.2L438.8 113.4L439.3 115.4L437.7 114.2L436.1 115.4L436.6 113.4L435.0 112.2L437.0 112.2ZM470.9 78.6L471.6 80.5L473.6 80.5L472.0 81.7L472.5 83.7L470.9 82.5L469.3 83.7L469.8 81.7L468.2 80.5L470.2 80.5ZM443.3 118.1L444.0 120.0L446.0 120.0L444.4 121.2L444.9 123.2L443.3 122.0L441.7 123.2L442.2 121.2L440.6 120.0L442.6 120.0ZM409.0 144.6L409.7 146.5L411.7 146.5L410.1 147.7L410.6 149.7L409.0 148.5L407.4 149.7L407.9 147.7L406.3 146.5L408.3 146.5ZM447.2 106.4L447.9 108.3L449.9 108.3L448.3 109.5L448.8 111.5L447.2 110.3L445.6 111.5L446.1 109.5L444.5 108.3L446.5 108.3ZM489.4 69.5L490.1 71.4L492.1 71.4L490.5 72.6L491.0 74.6L489.4 73.4L487.8 74.6L488.3 72.6L486.7 71.4L488.7 71.4ZM402.1 149.6L402.8 151.5L404.8 151.5L403.2 152.7L403.7 154.7L402.1 153.5L400.5 154.7L401.0 152.7L399.4 151.5L401.4 151.5ZM432.4 116.3L433.1 118.2L435.1 118.2L433.5 119.4L434.0 121.4L432.4 120.2L430.8 121.4L431.3 119.4L429.7 118.2L431.7 118.2ZM437.9 111.4L438.6 113.3L440.6 113.3L439.0 114.5L439.5 116.5L437.9 115.3L436.3 116.5L436.8 114.5L435.2 113.3L437.2 113.3ZM448.7 104.0L449.4 105.9L451.4 105.9L449.8 107.1L450.3 109.1L448.7 107.9L447.1 109.1L447.6 107.1L446.0 105.9L448.0 105.9ZM482.5 74.4L483.2 76.3L485.2 76.3L483.6 77.5L484.1 79.5L482.5 78.3L480.9 79.5L481.4 77.5L479.8 76.3L481.8 76.3ZM444.3 110.8L445.0 112.7L447.0 112.7L445.4 113.9L445.9 115.9L444.3 114.7L442.7 115.9L443.2 113.9L441.6 112.7L443.6 112.7ZM461.1 94.3L461.8 96.2L463.8 96.2L462.2 97.4L462.7 99.4L461.1 98.2L459.5 99.4L460.0 97.4L458.4 96.2L460.4 96.2ZM405.0 149.1L405.7 151.0L407.7 151.0L406.1 152.2L406.6 154.2L405.0 153.0L403.4 154.2L403.9 152.2L402.3 151.0L404.3 151.0ZM455.8 95.8L456.5 97.7L458.5 97.7L456.9 98.9L457.4 100.9L455.8 99.7L454.2 100.9L454.7 98.9L453.1 97.7L455.1 97.7ZM423.8 133.6L424.5 135.5L426.5 135.5L424.9 136.7L425.4 138.7L423.8 137.5L422.2 138.7L422.7 136.7L421.1 135.5L423.1 135.5ZM405.5 146.1L406.2 148.0L408.2 148.0L406.6 149.2L407.1 151.2L405.5 150.0L403.9 151.2L404.4 149.2L402.8 148.0L404.8 148.0ZM463.9 86.9L464.6 88.8L466.6 88.8L465.0 90.0L465.5 92.0L463.9 90.8L462.3 92.0L462.8 90.0L461.2 88.8L463.2 88.8ZM493.0 66.8L493.7 68.7L495.7 68.7L494.1 69.9L494.6 71.9L493.0 70.7L491.4 71.9L491.9 69.9L490.3 68.7L492.3 68.7ZM418.2 135.2L418.9 137.1L420.9 137.1L419.3 138.3L419.8 140.3L418.2 139.1L416.6 140.3L417.1 138.3L415.5 137.1L417.5 137.1ZM446.3 108.1L447.0 110.0L449.0 110.0L447.4 111.2L447.9 113.2L446.3 112.0L444.7 113.2L445.2 111.2L443.6 110.0L445.6 110.0ZM434.2 115.7L434.9 117.6L436.9 117.6L435.3 118.8L435.8 120.8L434.2 119.6L432.6 120.8L433.1 118.8L431.5 117.6L433.5 117.6ZM438.8 108.7L439.5 110.6L441.5 110.6L439.9 111.8L440.4 113.8L438.8 112.6L437.2 113.8L437.7 111.8L436.1 110.6L438.1 110.6ZM470.3 90.3L471.0 92.2L473.0 92.2L471.4 93.4L471.9 95.4L470.3 94.2L468.7 95.4L469.2 93.4L467.6 92.2L469.6 92.2ZM491.6 67.2L492.3 69.1L494.3 69.1L492.7 70.3L493.2 72.3L491.6 71.1L490.0 72.3L490.5 70.3L488.9 69.1L490.9 69.1ZM463.5 91.5L464.2 93.4L466.2 93.4L464.6 94.6L465.1 96.6L463.5 95.4L461.9 96.6L462.4 94.6L460.8 93.4L462.8 93.4ZM469.9 87.3L470.6 89.2L472.6 89.2L471.0 90.4L471.5 92.4L469.9 91.2L468.3 92.4L468.8 90.4L467.2 89.2L469.2 89.2ZM452.5 102.3L453.2 104.2L455.2 104.2L453.6 105.4L454.1 107.4L452.5 106.2L450.9 107.4L451.4 105.4L449.8 104.2L451.8 104.2ZM483.2 73.3L483.9 75.2L485.9 75.2L484.3 76.4L484.8 78.4L483.2 77.2L481.6 78.4L482.1 76.4L480.5 75.2L482.5 75.2ZM408.9 139.8L409.6 141.7L411.6 141.7L410.0 142.9L410.5 144.9L408.9 143.7L407.3 144.9L407.8 142.9L406.2 141.7L408.2 141.7ZM447.8 108.3L448.5 110.2L450.5 110.2L448.9 111.4L449.4 113.4L447.8 112.2L446.2 113.4L446.7 111.4L445.1 110.2L447.1 110.2ZM417.6 142.8L418.3 144.7L420.3 144.7L418.7 145.9L419.2 147.9L417.6 146.7L416.0 147.9L416.5 145.9L414.9 144.7L416.9 144.7ZM476.6 82.1L477.3 84.0L479.3 84.0L477.7 85.2L478.2 87.2L476.6 86.0L475.0 87.2L475.5 85.2L473.9 84.0L475.9 84.0ZM470.5 86.7L471.2 88.6L473.2 88.6L471.6 89.8L472.1 91.8L470.5 90.6L468.9 91.8L469.4 89.8L467.8 88.6L469.8 88.6ZM467.2 91.6L467.9 93.5L469.9 93.5L468.3 94.7L468.8 96.7L467.2 95.5L465.6 96.7L466.1 94.7L464.5 93.5L466.5 93.5ZM409.3 142.7L410.0 144.6L412.0 144.6L410.4 145.8L410.9 147.8L409.3 146.6L407.7 147.8L408.2 145.8L406.6 144.6L408.6 144.6ZM451.6 101.2L452.3 103.1L454.3 103.1L452.7 104.3L453.2 106.3L451.6 105.1L450.0 106.3L450.5 104.3L448.9 103.1L450.9 103.1ZM482.0 74.2L482.7 76.1L484.7 76.1L483.1 77.3L483.6 79.3L482.0 78.1L480.4 79.3L480.9 77.3L479.3 76.1L481.3 76.1ZM482.1 75.4L482.8 77.3L484.8 77.3L483.2 78.5L483.7 80.5L482.1 79.3L480.5 80.5L481.0 78.5L479.4 77.3L481.4 77.3ZM456.0 98.7L456.7 100.6L458.7 100.6L457.1 101.8L457.6 103.8L456.0 102.6L454.4 103.8L454.9 101.8L453.3 100.6L455.3 100.6ZM459.1 97.3L459.8 99.2L461.8 99.2L460.2 100.4L460.7 102.4L459.1 101.2L457.5 102.4L458.0 100.4L456.4 99.2L458.4 99.2ZM455.0 98.4L455.7 100.3L457.7 100.3L456.1 101.5L456.6 103.5L455.0 102.3L453.4 103.5L453.9 101.5L452.3 100.3L454.3 100.3ZM467.3 91.6L468.0 93.5L470.0 93.5L468.4 94.7L468.9 96.7L467.3 95.5L465.7 96.7L466.2 94.7L464.6 93.5L466.6 93.5ZM426.8 126.1L427.5 128.0L429.5 128.0L427.9 129.2L428.4 131.2L426.8 130.0L425.2 131.2L425.7 129.2L424.1 128.0L426.1 128.0ZM479.3 79.1L480.0 81.0L482.0 81.0L480.4 82.2L480.9 84.2L479.3 83.0L477.7 84.2L478.2 82.2L476.6 81.0L478.6 81.0ZM446.7 106.9L447.4 108.8L449.4 108.8L447.8 110.0L448.3 112.0L446.7 110.8L445.1 112.0L445.6 110.0L444.0 108.8L446.0 108.8ZM489.8 69.3L490.5 71.2L492.5 71.2L490.9 72.4L491.4 74.4L489.8 73.2L488.2 74.4L488.7 72.4L487.1 71.2L489.1 71.2ZM475.8 84.0L476.5 85.9L478.5 85.9L476.9 87.1L477.4 89.1L475.8 87.9L474.2 89.1L474.7 87.1L473.1 85.9L475.1 85.9ZM467.0 87.5L467.7 89.4L469.7 89.4L468.1 90.6L468.6 92.6L467.0 91.4L465.4 92.6L465.9 90.6L464.3 89.4L466.3 89.4ZM435.1 116.1L435.8 118.0L437.8 118.0L436.2 119.2L436.7 121.2L435.1 120.0L433.5 121.2L434.0 119.2L432.4 118.0L434.4 118.0ZM412.8 140.3L413.5 142.2L415.5 142.2L413.9 143.4L414.4 145.4L412.8 144.2L411.2 145.4L411.7 143.4L410.1 142.2L412.1 142.2ZM425.1 132.4L425.8 134.3L427.8 134.3L426.2 135.5L426.7 137.5L425.1 136.3L423.5 137.5L424.0 135.5L422.4 134.3L424.4 134.3ZM437.1 122.7L437.8 124.6L439.8 124.6L438.2 125.8L438.7 127.8L437.1 126.6L435.5 127.8L436.0 125.8L434.4 124.6L436.4 124.6ZM451.8 103.6L452.5 105.5L454.5 105.5L452.9 106.7L453.4 108.7L451.8 107.5L450.2 108.7L450.7 106.7L449.1 105.5L451.1 105.5ZM462.3 92.9L463.0 94.8L465.0 94.8L463.4 96.0L463.9 98.0L462.3 96.8L460.7 98.0L461.2 96.0L459.6 94.8L461.6 94.8ZM472.1 87.3L472.8 89.2L474.8 89.2L473.2 90.4L473.7 92.4L472.1 91.2L470.5 92.4L471.0 90.4L469.4 89.2L471.4 89.2ZM424.0 131.5L424.7 133.4L426.7 133.4L425.1 134.6L425.6 136.6L424.0 135.4L422.4 136.6L422.9 134.6L421.3 133.4L423.3 133.4ZM480.9 75.0L481.6 76.9L483.6 76.9L482.0 78.1L482.5 80.1L480.9 78.9L479.3 80.1L479.8 78.1L478.2 76.9L480.2 76.9ZM476.8 83.4L477.5 85.3L479.5 85.3L477.9 86.5L478.4 88.5L476.8 87.3L475.2 88.5L475.7 86.5L474.1 85.3L476.1 85.3ZM402.7 150.2L403.4 152.1L405.4 152.1L403.8 153.3L404.3 155.3L402.7 154.1L401.1 155.3L401.6 153.3L400.0 152.1L402.0 152.1ZM449.5 104.9L450.2 106.8L452.2 106.8L450.6 108.0L451.1 110.0L449.5 108.8L447.9 110.0L448.4 108.0L446.8 106.8L448.8 106.8ZM419.1 131.4L419.8 133.3L421.8 133.3L420.2 134.5L420.7 136.5L419.1 135.3L417.5 136.5L418.0 134.5L416.4 133.3L418.4 133.3ZM411.2 149.0L411.9 150.9L413.9 150.9L412.3 152.1L412.8 154.1L411.2 152.9L409.6 154.1L410.1 152.1L408.5 150.9L410.5 150.9ZM455.6 99.0L456.3 100.9L458.3 100.9L456.7 102.1L457.2 104.1L455.6 102.9L454.0 104.1L454.5 102.1L452.9 100.9L454.9 100.9ZM445.4 115.2L446.1 117.1L448.1 117.1L446.5 118.3L447.0 120.3L445.4 119.1L443.8 120.3L444.3 118.3L442.7 117.1L444.7 117.1ZM432.4 114.9L433.1 116.8L435.1 116.8L433.5 118.0L434.0 120.0L432.4 118.8L430.8 120.0L431.3 118.0L429.7 116.8L431.7 116.8ZM458.7 95.0L459.4 96.9L461.4 96.9L459.8 98.1L460.3 100.1L458.7 98.9L457.1 100.1L457.6 98.1L456.0 96.9L458.0 96.9ZM468.3 87.7L469.0 89.6L471.0 89.6L469.4 90.8L469.9 92.8L468.3 91.6L466.7 92.8L467.2 90.8L465.6 89.6L467.6 89.6ZM472.0 81.2L472.7 83.1L474.7 83.1L473.1 84.3L473.6 86.3L472.0 85.1L470.4 86.3L470.9 84.3L469.3 83.1L471.3 83.1ZM419.7 140.0L420.4 141.9L422.4 141.9L420.8 143.1L421.3 145.1L419.7 143.9L418.1 145.1L418.6 143.1L417.0 141.9L419.0 141.9ZM468.6 89.9L469.3 91.8L471.3 91.8L469.7 93.0L470.2 95.0L468.6 93.8L467.0 95.0L467.5 93.0L465.9 91.8L467.9 91.8ZM458.6 91.3L459.3 93.2L461.3 93.2L459.7 94.4L460.2 96.4L458.6 95.2L457.0 96.4L457.5 94.4L455.9 93.2L457.9 93.2ZM472.5 80.0L473.2 81.9L475.2 81.9L473.6 83.1L474.1 85.1L472.5 83.9L470.9 85.1L471.4 83.1L469.8 81.9L471.8 81.9ZM474.7 82.4L475.4 84.3L477.4 84.3L475.8 85.5L476.3 87.5L474.7 86.3L473.1 87.5L473.6 85.5L472.0 84.3L474.0 84.3ZM407.8 142.0L408.5 143.9L410.5 143.9L408.9 145.1L409.4 147.1L407.8 145.9L406.2 147.1L406.7 145.1L405.1 143.9L407.1 143.9ZM446.0 113.8L446.7 115.7L448.7 115.7L447.1 116.9L447.6 118.9L446.0 117.7L444.4 118.9L444.9 116.9L443.3 115.7L445.3 115.7ZM460.9 92.5L461.6 94.4L463.6 94.4L462.0 95.6L462.5 97.6L460.9 96.4L459.3 97.6L459.8 95.6L458.2 94.4L460.2 94.4ZM455.7 95.5L456.4 97.4L458.4 97.4L456.8 98.6L457.3 100.6L455.7 99.4L454.1 100.6L454.6 98.6L453.0 97.4L455.0 97.4ZM468.3 86.1L469.0 88.0L471.0 88.0L469.4 89.2L469.9 91.2L468.3 90.0L466.7 91.2L467.2 89.2L465.6 88.0L467.6 88.0ZM471.9 84.6L472.6 86.5L474.6 86.5L473.0 87.7L473.5 89.7L471.9 88.5L470.3 89.7L470.8 87.7L469.2 86.5L471.2 86.5ZM439.5 118.3L440.2 120.2L442.2 120.2L440.6 121.4L441.1 123.4L439.5 122.2L437.9 123.4L438.4 121.4L436.8 120.2L438.8 120.2ZM410.5 144.4L411.2 146.3L413.2 146.3L411.6 147.5L412.1 149.5L410.5 148.3L408.9 149.5L409.4 147.5L407.8 146.3L409.8 146.3ZM462.2 91.6L462.9 93.5L464.9 93.5L463.3 94.7L463.8 96.7L462.2 95.5L460.6 96.7L461.1 94.7L459.5 93.5L461.5 93.5ZM473.9 80.8L474.6 82.7L476.6 82.7L475.0 83.9L475.5 85.9L473.9 84.7L472.3 85.9L472.8 83.9L471.2 82.7L473.2 82.7ZM490.3 68.9L491.0 70.8L493.0 70.8L491.4 72.0L491.9 74.0L490.3 72.8L488.7 74.0L489.2 72.0L487.6 70.8L489.6 70.8ZM448.6 109.3L449.3 111.2L451.3 111.2L449.7 112.4L450.2 114.4L448.6 113.2L447.0 114.4L447.5 112.4L445.9 111.2L447.9 111.2ZM406.6 149.7L407.3 151.6L409.3 151.6L407.7 152.8L408.2 154.8L406.6 153.6L405.0 154.8L405.5 152.8L403.9 151.6L405.9 151.6ZM458.4 93.6L459.1 95.5L461.1 95.5L459.5 96.7L460.0 98.7L458.4 97.5L456.8 98.7L457.3 96.7L455.7 95.5L457.7 95.5ZM428.4 122.8L429.1 124.7L431.1 124.7L429.5 125.9L430.0 127.9L428.4 126.7L426.8 127.9L427.3 125.9L425.7 124.7L427.7 124.7ZM406.6 149.3L407.3 151.2L409.3 151.2L407.7 152.4L408.2 154.4L406.6 153.2L405.0 154.4L405.5 152.4L403.9 151.2L405.9 151.2ZM407.3 148.6L408.0 150.5L410.0 150.5L408.4 151.7L408.9 153.7L407.3 152.5L405.7 153.7L406.2 151.7L404.6 150.5L406.6 150.5ZM402.3 150.0L403.0 151.9L405.0 151.9L403.4 153.1L403.9 155.1L402.3 153.9L400.7 155.1L401.2 153.1L399.6 151.9L401.6 151.9ZM470.4 85.3L471.1 87.2L473.1 87.2L471.5 88.4L472.0 90.4L470.4 89.2L468.8 90.4L469.3 88.4L467.7 87.2L469.7 87.2ZM471.8 83.6L472.5 85.5L474.5 85.5L472.9 86.7L473.4 88.7L471.8 87.5L470.2 88.7L470.7 86.7L469.1 85.5L471.1 85.5ZM472.4 85.0L473.1 86.9L475.1 86.9L473.5 88.1L474.0 90.1L472.4 88.9L470.8 90.1L471.3 88.1L469.7 86.9L471.7 86.9ZM469.9 83.7L470.6 85.6L472.6 85.6L471.0 86.8L471.5 88.8L469.9 87.6L468.3 88.8L468.8 86.8L467.2 85.6L469.2 85.6ZM469.9 83.7L470.6 85.6L472.6 85.6L471.0 86.8L471.5 88.8L469.9 87.6L468.3 88.8L468.8 86.8L467.2 85.6L469.2 85.6ZM468.7 84.1L469.4 86.0L471.4 86.0L469.8 87.2L470.3 89.2L468.7 88.0L467.1 89.2L467.6 87.2L466.0 86.0L468.0 86.0ZM469.0 81.5L469.7 83.4L471.7 83.4L470.1 84.6L470.6 86.6L469.0 85.4L467.4 86.6L467.9 84.6L466.3 83.4L468.3 83.4ZM468.9 84.9L469.6 86.8L471.6 86.8L470.0 88.0L470.5 90.0L468.9 88.8L467.3 90.0L467.8 88.0L466.2 86.8L468.2 86.8ZM480.1 83.0L480.8 84.9L482.8 84.9L481.2 86.1L481.7 88.1L480.1 86.9L478.5 88.1L479.0 86.1L477.4 84.9L479.4 84.9ZM481.2 81.2L481.9 83.1L483.9 83.1L482.3 84.3L482.8 86.3L481.2 85.1L479.6 86.3L480.1 84.3L478.5 83.1L480.5 83.1ZM477.3 80.0L478.0 81.9L480.0 81.9L478.4 83.1L478.9 85.1L477.3 83.9L475.7 85.1L476.2 83.1L474.6 81.9L476.6 81.9ZM480.1 80.0L480.8 81.9L482.8 81.9L481.2 83.1L481.7 85.1L480.1 83.9L478.5 85.1L479.0 83.1L477.4 81.9L479.4 81.9ZM474.3 84.4L475.0 86.3L477.0 86.3L475.4 87.5L475.9 89.5L474.3 88.3L472.7 89.5L473.2 87.5L471.6 86.3L473.6 86.3ZM473.0 85.1L473.7 87.0L475.7 87.0L474.1 88.2L474.6 90.2L473.0 89.0L471.4 90.2L471.9 88.2L470.3 87.0L472.3 87.0ZM442.0 115.9L442.7 117.8L444.7 117.8L443.1 119.0L443.6 121.0L442.0 119.8L440.4 121.0L440.9 119.0L439.3 117.8L441.3 117.8ZM473.1 83.7L473.8 85.6L475.8 85.6L474.2 86.8L474.7 88.8L473.1 87.6L471.5 88.8L472.0 86.8L470.4 85.6L472.4 85.6ZM473.7 84.1L474.4 86.0L476.4 86.0L474.8 87.2L475.3 89.2L473.7 88.0L472.1 89.2L472.6 87.2L471.0 86.0L473.0 86.0ZM474.9 86.9L475.6 88.8L477.6 88.8L476.0 90.0L476.5 92.0L474.9 90.8L473.3 92.0L473.8 90.0L472.2 88.8L474.2 88.8ZM441.5 115.5L442.2 117.4L444.2 117.4L442.6 118.6L443.1 120.6L441.5 119.4L439.9 120.6L440.4 118.6L438.8 117.4L440.8 117.4ZM444.4 116.9L445.1 118.8L447.1 118.8L445.5 120.0L446.0 122.0L444.4 120.8L442.8 122.0L443.3 120.0L441.7 118.8L443.7 118.8ZM442.7 114.0L443.4 115.9L445.4 115.9L443.8 117.1L444.3 119.1L442.7 117.9L441.1 119.1L441.6 117.1L440.0 115.9L442.0 115.9ZM440.5 115.6L441.2 117.5L443.2 117.5L441.6 118.7L442.1 120.7L440.5 119.5L438.9 120.7L439.4 118.7L437.8 117.5L439.8 117.5ZM471.6 87.0L472.3 88.9L474.3 88.9L472.7 90.1L473.2 92.1L471.6 90.9L470.0 92.1L470.5 90.1L468.9 88.9L470.9 88.9ZM471.4 88.8L472.1 90.7L474.1 90.7L472.5 91.9L473.0 93.9L471.4 92.7L469.8 93.9L470.3 91.9L468.7 90.7L470.7 90.7ZM471.2 88.1L471.9 90.0L473.9 90.0L472.3 91.2L472.8 93.2L471.2 92.0L469.6 93.2L470.1 91.2L468.5 90.0L470.5 90.0ZM470.3 87.4L471.0 89.3L473.0 89.3L471.4 90.5L471.9 92.5L470.3 91.3L468.7 92.5L469.2 90.5L467.6 89.3L469.6 89.3ZM445.3 108.6L446.0 110.5L448.0 110.5L446.4 111.7L446.9 113.7L445.3 112.5L443.7 113.7L444.2 111.7L442.6 110.5L444.6 110.5ZM444.2 108.0L444.9 109.9L446.9 109.9L445.3 111.1L445.8 113.1L444.2 111.9L442.6 113.1L443.1 111.1L441.5 109.9L443.5 109.9ZM445.6 109.0L446.3 110.9L448.3 110.9L446.7 112.1L447.2 114.1L445.6 112.9L444.0 114.1L444.5 112.1L442.9 110.9L444.9 110.9ZM448.0 110.7L448.7 112.6L450.7 112.6L449.1 113.8L449.6 115.8L448.0 114.6L446.4 115.8L446.9 113.8L445.3 112.6L447.3 112.6ZM447.5 108.9L448.2 110.8L450.2 110.8L448.6 112.0L449.1 114.0L447.5 112.8L445.9 114.0L446.4 112.0L444.8 110.8L446.8 110.8ZM448.2 109.7L448.9 111.6L450.9 111.6L449.3 112.8L449.8 114.8L448.2 113.6L446.6 114.8L447.1 112.8L445.5 111.6L447.5 111.6ZM468.6 85.7L469.3 87.6L471.3 87.6L469.7 88.8L470.2 90.8L468.6 89.6L467.0 90.8L467.5 88.8L465.9 87.6L467.9 87.6ZM468.2 89.0L468.9 90.9L470.9 90.9L469.3 92.1L469.8 94.1L468.2 92.9L466.6 94.1L467.1 92.1L465.5 90.9L467.5 90.9ZM465.8 86.3L466.5 88.2L468.5 88.2L466.9 89.4L467.4 91.4L465.8 90.2L464.2 91.4L464.7 89.4L463.1 88.2L465.1 88.2ZM468.3 85.4L469.0 87.3L471.0 87.3L469.4 88.5L469.9 90.5L468.3 89.3L466.7 90.5L467.2 88.5L465.6 87.3L467.6 87.3ZM438.9 117.8L439.6 119.7L441.6 119.7L440.0 120.9L440.5 122.9L438.9 121.7L437.3 122.9L437.8 120.9L436.2 119.7L438.2 119.7ZM438.4 119.6L439.1 121.5L441.1 121.5L439.5 122.7L440.0 124.7L438.4 123.5L436.8 124.7L437.3 122.7L435.7 121.5L437.7 121.5ZM458.3 95.9L459.0 97.8L461.0 97.8L459.4 99.0L459.9 101.0L458.3 99.8L456.7 101.0L457.2 99.0L455.6 97.8L457.6 97.8ZM458.0 94.2L458.7 96.1L460.7 96.1L459.1 97.3L459.6 99.3L458.0 98.1L456.4 99.3L456.9 97.3L455.3 96.1L457.3 96.1ZM457.6 92.6L458.3 94.5L460.3 94.5L458.7 95.7L459.2 97.7L457.6 96.5L456.0 97.7L456.5 95.7L454.9 94.5L456.9 94.5ZM456.2 94.5L456.9 96.4L458.9 96.4L457.3 97.6L457.8 99.6L456.2 98.4L454.6 99.6L455.1 97.6L453.5 96.4L455.5 96.4ZM455.7 97.6L456.4 99.5L458.4 99.5L456.8 100.7L457.3 102.7L455.7 101.5L454.1 102.7L454.6 100.7L453.0 99.5L455.0 99.5ZM458.4 96.1L459.1 98.0L461.1 98.0L459.5 99.2L460.0 101.2L458.4 100.0L456.8 101.2L457.3 99.2L455.7 98.0L457.7 98.0ZM457.2 98.0L457.9 99.9L459.9 99.9L458.3 101.1L458.8 103.1L457.2 101.9L455.6 103.1L456.1 101.1L454.5 99.9L456.5 99.9ZM458.9 96.4L459.6 98.3L461.6 98.3L460.0 99.5L460.5 101.5L458.9 100.3L457.3 101.5L457.8 99.5L456.2 98.3L458.2 98.3ZM462.5 89.3L463.2 91.2L465.2 91.2L463.6 92.4L464.1 94.4L462.5 93.2L460.9 94.4L461.4 92.4L459.8 91.2L461.8 91.2ZM461.5 89.0L462.2 90.9L464.2 90.9L462.6 92.1L463.1 94.1L461.5 92.9L459.9 94.1L460.4 92.1L458.8 90.9L460.8 90.9ZM462.9 89.9L463.6 91.8L465.6 91.8L464.0 93.0L464.5 95.0L462.9 93.8L461.3 95.0L461.8 93.0L460.2 91.8L462.2 91.8ZM460.6 90.9L461.3 92.8L463.3 92.8L461.7 94.0L462.2 96.0L460.6 94.8L459.0 96.0L459.5 94.0L457.9 92.8L459.9 92.8ZM462.3 89.4L463.0 91.3L465.0 91.3L463.4 92.5L463.9 94.5L462.3 93.3L460.7 94.5L461.2 92.5L459.6 91.3L461.6 91.3ZM462.9 91.8L463.6 93.7L465.6 93.7L464.0 94.9L464.5 96.9L462.9 95.7L461.3 96.9L461.8 94.9L460.2 93.7L462.2 93.7ZM476.4 85.8L477.1 87.7L479.1 87.7L477.5 88.9L478.0 90.9L476.4 89.7L474.8 90.9L475.3 88.9L473.7 87.7L475.7 87.7ZM476.2 85.7L476.9 87.6L478.9 87.6L477.3 88.8L477.8 90.8L476.2 89.6L474.6 90.8L475.1 88.8L473.5 87.6L475.5 87.6ZM475.7 86.2L476.4 88.1L478.4 88.1L476.8 89.3L477.3 91.3L475.7 90.1L474.1 91.3L474.6 89.3L473.0 88.1L475.0 88.1ZM477.7 82.1L478.4 84.0L480.4 84.0L478.8 85.2L479.3 87.2L477.7 86.0L476.1 87.2L476.6 85.2L475.0 84.0L477.0 84.0ZM477.9 84.7L478.6 86.6L480.6 86.6L479.0 87.8L479.5 89.8L477.9 88.6L476.3 89.8L476.8 87.8L475.2 86.6L477.2 86.6ZM476.9 83.6L477.6 85.5L479.6 85.5L478.0 86.7L478.5 88.7L476.9 87.5L475.3 88.7L475.8 86.7L474.2 85.5L476.2 85.5ZM478.6 84.0L479.3 85.9L481.3 85.9L479.7 87.1L480.2 89.1L478.6 87.9L477.0 89.1L477.5 87.1L475.9 85.9L477.9 85.9ZM418.5 138.7L419.2 140.6L421.2 140.6L419.6 141.8L420.1 143.8L418.5 142.6L416.9 143.8L417.4 141.8L415.8 140.6L417.8 140.6ZM432.1 124.1L432.8 126.0L434.8 126.0L433.2 127.2L433.7 129.2L432.1 128.0L430.5 129.2L431.0 127.2L429.4 126.0L431.4 126.0ZM431.7 125.5L432.4 127.4L434.4 127.4L432.8 128.6L433.3 130.6L431.7 129.4L430.1 130.6L430.6 128.6L429.0 127.4L431.0 127.4ZM478.7 79.0L479.4 80.9L481.4 80.9L479.8 82.1L480.3 84.1L478.7 82.9L477.1 84.1L477.6 82.1L476.0 80.9L478.0 80.9ZM480.1 78.0L480.8 79.9L482.8 79.9L481.2 81.1L481.7 83.1L480.1 81.9L478.5 83.1L479.0 81.1L477.4 79.9L479.4 79.9ZM477.3 79.3L478.0 81.2L480.0 81.2L478.4 82.4L478.9 84.4L477.3 83.2L475.7 84.4L476.2 82.4L474.6 81.2L476.6 81.2ZM478.9 79.9L479.6 81.8L481.6 81.8L480.0 83.0L480.5 85.0L478.9 83.8L477.3 85.0L477.8 83.0L476.2 81.8L478.2 81.8ZM479.9 78.1L480.6 80.0L482.6 80.0L481.0 81.2L481.5 83.2L479.9 82.0L478.3 83.2L478.8 81.2L477.2 80.0L479.2 80.0ZM478.0 83.0L478.7 84.9L480.7 84.9L479.1 86.1L479.6 88.1L478.0 86.9L476.4 88.1L476.9 86.1L475.3 84.9L477.3 84.9ZM479.5 82.2L480.2 84.1L482.2 84.1L480.6 85.3L481.1 87.3L479.5 86.1L477.9 87.3L478.4 85.3L476.8 84.1L478.8 84.1ZM484.4 72.3L485.1 74.2L487.1 74.2L485.5 75.4L486.0 77.4L484.4 76.2L482.8 77.4L483.3 75.4L481.7 74.2L483.7 74.2ZM484.9 72.4L485.6 74.3L487.6 74.3L486.0 75.5L486.5 77.5L484.9 76.3L483.3 77.5L483.8 75.5L482.2 74.3L484.2 74.3ZM483.7 75.6L484.4 77.5L486.4 77.5L484.8 78.7L485.3 80.7L483.7 79.5L482.1 80.7L482.6 78.7L481.0 77.5L483.0 77.5ZM483.7 73.6L484.4 75.5L486.4 75.5L484.8 76.7L485.3 78.7L483.7 77.5L482.1 78.7L482.6 76.7L481.0 75.5L483.0 75.5ZM484.0 72.2L484.7 74.1L486.7 74.1L485.1 75.3L485.6 77.3L484.0 76.1L482.4 77.3L482.9 75.3L481.3 74.1L483.3 74.1ZM484.0 74.2L484.7 76.1L486.7 76.1L485.1 77.3L485.6 79.3L484.0 78.1L482.4 79.3L482.9 77.3L481.3 76.1L483.3 76.1ZM481.7 72.9L482.4 74.8L484.4 74.8L482.8 76.0L483.3 78.0L481.7 76.8L480.1 78.0L480.6 76.0L479.0 74.8L481.0 74.8ZM483.3 74.2L484.0 76.1L486.0 76.1L484.4 77.3L484.9 79.3L483.3 78.1L481.7 79.3L482.2 77.3L480.6 76.1L482.6 76.1ZM424.7 131.5L425.4 133.4L427.4 133.4L425.8 134.6L426.3 136.6L424.7 135.4L423.1 136.6L423.6 134.6L422.0 133.4L424.0 133.4ZM427.6 133.3L428.3 135.2L430.3 135.2L428.7 136.4L429.2 138.4L427.6 137.2L426.0 138.4L426.5 136.4L424.9 135.2L426.9 135.2ZM426.3 133.6L427.0 135.5L429.0 135.5L427.4 136.7L427.9 138.7L426.3 137.5L424.7 138.7L425.2 136.7L423.6 135.5L425.6 135.5ZM426.6 132.3L427.3 134.2L429.3 134.2L427.7 135.4L428.2 137.4L426.6 136.2L425.0 137.4L425.5 135.4L423.9 134.2L425.9 134.2ZM414.9 137.2L415.6 139.1L417.6 139.1L416.0 140.3L416.5 142.3L414.9 141.1L413.3 142.3L413.8 140.3L412.2 139.1L414.2 139.1ZM412.8 137.4L413.5 139.3L415.5 139.3L413.9 140.5L414.4 142.5L412.8 141.3L411.2 142.5L411.7 140.5L410.1 139.3L412.1 139.3ZM411.6 137.2L412.3 139.1L414.3 139.1L412.7 140.3L413.2 142.3L411.6 141.1L410.0 142.3L410.5 140.3L408.9 139.1L410.9 139.1ZM413.3 137.8L414.0 139.7L416.0 139.7L414.4 140.9L414.9 142.9L413.3 141.7L411.7 142.9L412.2 140.9L410.6 139.7L412.6 139.7ZM466.9 91.6L467.6 93.5L469.6 93.5L468.0 94.7L468.5 96.7L466.9 95.5L465.3 96.7L465.8 94.7L464.2 93.5L466.2 93.5ZM465.7 89.8L466.4 91.7L468.4 91.7L466.8 92.9L467.3 94.9L465.7 93.7L464.1 94.9L464.6 92.9L463.0 91.7L465.0 91.7ZM467.1 88.9L467.8 90.8L469.8 90.8L468.2 92.0L468.7 94.0L467.1 92.8L465.5 94.0L466.0 92.0L464.4 90.8L466.4 90.8ZM466.3 90.5L467.0 92.4L469.0 92.4L467.4 93.6L467.9 95.6L466.3 94.4L464.7 95.6L465.2 93.6L463.6 92.4L465.6 92.4ZM434.5 117.3L435.2 119.2L437.2 119.2L435.6 120.4L436.1 122.4L434.5 121.2L432.9 122.4L433.4 120.4L431.8 119.2L433.8 119.2ZM472.0 82.2L472.7 84.1L474.7 84.1L473.1 85.3L473.6 87.3L472.0 86.1L470.4 87.3L470.9 85.3L469.3 84.1L471.3 84.1ZM474.2 83.9L474.9 85.8L476.9 85.8L475.3 87.0L475.8 89.0L474.2 87.8L472.6 89.0L473.1 87.0L471.5 85.8L473.5 85.8ZM474.5 83.6L475.2 85.5L477.2 85.5L475.6 86.7L476.1 88.7L474.5 87.5L472.9 88.7L473.4 86.7L471.8 85.5L473.8 85.5ZM472.7 86.3L473.4 88.2L475.4 88.2L473.8 89.4L474.3 91.4L472.7 90.2L471.1 91.4L471.6 89.4L470.0 88.2L472.0 88.2ZM472.5 84.3L473.2 86.2L475.2 86.2L473.6 87.4L474.1 89.4L472.5 88.2L470.9 89.4L471.4 87.4L469.8 86.2L471.8 86.2ZM474.5 83.4L475.2 85.3L477.2 85.3L475.6 86.5L476.1 88.5L474.5 87.3L472.9 88.5L473.4 86.5L471.8 85.3L473.8 85.3ZM474.0 82.6L474.7 84.5L476.7 84.5L475.1 85.7L475.6 87.7L474.0 86.5L472.4 87.7L472.9 85.7L471.3 84.5L473.3 84.5ZM472.4 83.0L473.1 84.9L475.1 84.9L473.5 86.1L474.0 88.1L472.4 86.9L470.8 88.1L471.3 86.1L469.7 84.9L471.7 84.9ZM464.5 92.3L465.2 94.2L467.2 94.2L465.6 95.4L466.1 97.4L464.5 96.2L462.9 97.4L463.4 95.4L461.8 94.2L463.8 94.2ZM464.6 92.8L465.3 94.7L467.3 94.7L465.7 95.9L466.2 97.9L464.6 96.7L463.0 97.9L463.5 95.9L461.9 94.7L463.9 94.7ZM444.9 106.1L445.6 108.0L447.6 108.0L446.0 109.2L446.5 111.2L444.9 110.0L443.3 111.2L443.8 109.2L442.2 108.0L444.2 108.0ZM466.2 89.6L466.9 91.5L468.9 91.5L467.3 92.7L467.8 94.7L466.2 93.5L464.6 94.7L465.1 92.7L463.5 91.5L465.5 91.5ZM463.9 89.7L464.6 91.6L466.6 91.6L465.0 92.8L465.5 94.8L463.9 93.6L462.3 94.8L462.8 92.8L461.2 91.6L463.2 91.6ZM443.9 115.3L444.6 117.2L446.6 117.2L445.0 118.4L445.5 120.4L443.9 119.2L442.3 120.4L442.8 118.4L441.2 117.2L443.2 117.2ZM440.6 115.8L441.3 117.7L443.3 117.7L441.7 118.9L442.2 120.9L440.6 119.7L439.0 120.9L439.5 118.9L437.9 117.7L439.9 117.7ZM442.9 113.4L443.6 115.3L445.6 115.3L444.0 116.5L444.5 118.5L442.9 117.3L441.3 118.5L441.8 116.5L440.2 115.3L442.2 115.3ZM439.3 111.8L440.0 113.7L442.0 113.7L440.4 114.9L440.9 116.9L439.3 115.7L437.7 116.9L438.2 114.9L436.6 113.7L438.6 113.7ZM437.3 113.0L438.0 114.9L440.0 114.9L438.4 116.1L438.9 118.1L437.3 116.9L435.7 118.1L436.2 116.1L434.6 114.9L436.6 114.9ZM437.0 114.5L437.7 116.4L439.7 116.4L438.1 117.6L438.6 119.6L437.0 118.4L435.4 119.6L435.9 117.6L434.3 116.4L436.3 116.4ZM437.9 112.7L438.6 114.6L440.6 114.6L439.0 115.8L439.5 117.8L437.9 116.6L436.3 117.8L436.8 115.8L435.2 114.6L437.2 114.6ZM429.3 127.8L430.0 129.7L432.0 129.7L430.4 130.9L430.9 132.9L429.3 131.7L427.7 132.9L428.2 130.9L426.6 129.7L428.6 129.7ZM431.1 124.1L431.8 126.0L433.8 126.0L432.2 127.2L432.7 129.2L431.1 128.0L429.5 129.2L430.0 127.2L428.4 126.0L430.4 126.0ZM429.8 126.2L430.5 128.1L432.5 128.1L430.9 129.3L431.4 131.3L429.8 130.1L428.2 131.3L428.7 129.3L427.1 128.1L429.1 128.1ZM430.8 123.7L431.5 125.6L433.5 125.6L431.9 126.8L432.4 128.8L430.8 127.6L429.2 128.8L429.7 126.8L428.1 125.6L430.1 125.6ZM429.2 126.3L429.9 128.2L431.9 128.2L430.3 129.4L430.8 131.4L429.2 130.2L427.6 131.4L428.1 129.4L426.5 128.2L428.5 128.2ZM448.3 110.9L449.0 112.8L451.0 112.8L449.4 114.0L449.9 116.0L448.3 114.8L446.7 116.0L447.2 114.0L445.6 112.8L447.6 112.8ZM449.4 109.0L450.1 110.9L452.1 110.9L450.5 112.1L451.0 114.1L449.4 112.9L447.8 114.1L448.3 112.1L446.7 110.9L448.7 110.9ZM448.3 107.5L449.0 109.4L451.0 109.4L449.4 110.6L449.9 112.6L448.3 111.4L446.7 112.6L447.2 110.6L445.6 109.4L447.6 109.4ZM432.0 122.3L432.7 124.2L434.7 124.2L433.1 125.4L433.6 127.4L432.0 126.2L430.4 127.4L430.9 125.4L429.3 124.2L431.3 124.2ZM435.7 123.7L436.4 125.6L438.4 125.6L436.8 126.8L437.3 128.8L435.7 127.6L434.1 128.8L434.6 126.8L433.0 125.6L435.0 125.6ZM435.0 123.4L435.7 125.3L437.7 125.3L436.1 126.5L436.6 128.5L435.0 127.3L433.4 128.5L433.9 126.5L432.3 125.3L434.3 125.3ZM431.3 120.6L432.0 122.5L434.0 122.5L432.4 123.7L432.9 125.7L431.3 124.5L429.7 125.7L430.2 123.7L428.6 122.5L430.6 122.5ZM432.0 120.7L432.7 122.6L434.7 122.6L433.1 123.8L433.6 125.8L432.0 124.6L430.4 125.8L430.9 123.8L429.3 122.6L431.3 122.6ZM436.7 118.7L437.4 120.6L439.4 120.6L437.8 121.8L438.3 123.8L436.7 122.6L435.1 123.8L435.6 121.8L434.0 120.6L436.0 120.6ZM433.8 119.3L434.5 121.2L436.5 121.2L434.9 122.4L435.4 124.4L433.8 123.2L432.2 124.4L432.7 122.4L431.1 121.2L433.1 121.2ZM434.9 122.9L435.6 124.8L437.6 124.8L436.0 126.0L436.5 128.0L434.9 126.8L433.3 128.0L433.8 126.0L432.2 124.8L434.2 124.8ZM428.1 129.5L428.8 131.4L430.8 131.4L429.2 132.6L429.7 134.6L428.1 133.4L426.5 134.6L427.0 132.6L425.4 131.4L427.4 131.4ZM430.3 129.1L431.0 131.0L433.0 131.0L431.4 132.2L431.9 134.2L430.3 133.0L428.7 134.2L429.2 132.2L427.6 131.0L429.6 131.0ZM427.3 126.5L428.0 128.4L430.0 128.4L428.4 129.6L428.9 131.6L427.3 130.4L425.7 131.6L426.2 129.6L424.6 128.4L426.6 128.4ZM426.5 130.1L427.2 132.0L429.2 132.0L427.6 133.2L428.1 135.2L426.5 134.0L424.9 135.2L425.4 133.2L423.8 132.0L425.8 132.0ZM426.2 127.1L426.9 129.0L428.9 129.0L427.3 130.2L427.8 132.2L426.2 131.0L424.6 132.2L425.1 130.2L423.5 129.0L425.5 129.0ZM427.4 128.6L428.1 130.5L430.1 130.5L428.5 131.7L429.0 133.7L427.4 132.5L425.8 133.7L426.3 131.7L424.7 130.5L426.7 130.5ZM439.2 111.7L439.9 113.6L441.9 113.6L440.3 114.8L440.8 116.8L439.2 115.6L437.6 116.8L438.1 114.8L436.5 113.6L438.5 113.6ZM441.3 112.0L442.0 113.9L444.0 113.9L442.4 115.1L442.9 117.1L441.3 115.9L439.7 117.1L440.2 115.1L438.6 113.9L440.6 113.9ZM440.4 112.3L441.1 114.2L443.1 114.2L441.5 115.4L442.0 117.4L440.4 116.2L438.8 117.4L439.3 115.4L437.7 114.2L439.7 114.2ZM439.6 112.2L440.3 114.1L442.3 114.1L440.7 115.3L441.2 117.3L439.6 116.1L438.0 117.3L438.5 115.3L436.9 114.1L438.9 114.1ZM442.6 111.0L443.3 112.9L445.3 112.9L443.7 114.1L444.2 116.1L442.6 114.9L441.0 116.1L441.5 114.1L439.9 112.9L441.9 112.9ZM447.7 106.5L448.4 108.4L450.4 108.4L448.8 109.6L449.3 111.6L447.7 110.4L446.1 111.6L446.6 109.6L445.0 108.4L447.0 108.4ZM445.2 108.0L445.9 109.9L447.9 109.9L446.3 111.1L446.8 113.1L445.2 111.9L443.6 113.1L444.1 111.1L442.5 109.9L444.5 109.9ZM447.3 106.4L448.0 108.3L450.0 108.3L448.4 109.5L448.9 111.5L447.3 110.3L445.7 111.5L446.2 109.5L444.6 108.3L446.6 108.3ZM447.9 106.2L448.6 108.1L450.6 108.1L449.0 109.3L449.5 111.3L447.9 110.1L446.3 111.3L446.8 109.3L445.2 108.1L447.2 108.1ZM446.4 106.8L447.1 108.7L449.1 108.7L447.5 109.9L448.0 111.9L446.4 110.7L444.8 111.9L445.3 109.9L443.7 108.7L445.7 108.7ZM411.5 147.6L412.2 149.5L414.2 149.5L412.6 150.7L413.1 152.7L411.5 151.5L409.9 152.7L410.4 150.7L408.8 149.5L410.8 149.5ZM411.3 148.7L412.0 150.6L414.0 150.6L412.4 151.8L412.9 153.8L411.3 152.6L409.7 153.8L410.2 151.8L408.6 150.6L410.6 150.6ZM412.8 148.4L413.5 150.3L415.5 150.3L413.9 151.5L414.4 153.5L412.8 152.3L411.2 153.5L411.7 151.5L410.1 150.3L412.1 150.3ZM410.7 144.6L411.4 146.5L413.4 146.5L411.8 147.7L412.3 149.7L410.7 148.5L409.1 149.7L409.6 147.7L408.0 146.5L410.0 146.5ZM430.4 121.6L431.1 123.5L433.1 123.5L431.5 124.7L432.0 126.7L430.4 125.5L428.8 126.7L429.3 124.7L427.7 123.5L429.7 123.5ZM407.5 147.8L408.2 149.7L410.2 149.7L408.6 150.9L409.1 152.9L407.5 151.7L405.9 152.9L406.4 150.9L404.8 149.7L406.8 149.7ZM443.5 113.4L444.2 115.3L446.2 115.3L444.6 116.5L445.1 118.5L443.5 117.3L441.9 118.5L442.4 116.5L440.8 115.3L442.8 115.3ZM401.9 150.1L402.6 152.0L404.6 152.0L403.0 153.2L403.5 155.2L401.9 154.0L400.3 155.2L400.8 153.2L399.2 152.0L401.2 152.0ZM468.6 86.6L469.3 88.5L471.3 88.5L469.7 89.7L470.2 91.7L468.6 90.5L467.0 91.7L467.5 89.7L465.9 88.5L467.9 88.5ZM469.0 90.7L469.7 92.6L471.7 92.6L470.1 93.8L470.6 95.8L469.0 94.6L467.4 95.8L467.9 93.8L466.3 92.6L468.3 92.6ZM465.9 86.3L466.6 88.2L468.6 88.2L467.0 89.4L467.5 91.4L465.9 90.2L464.3 91.4L464.8 89.4L463.2 88.2L465.2 88.2ZM430.3 128.0L431.0 129.9L433.0 129.9L431.4 131.1L431.9 133.1L430.3 131.9L428.7 133.1L429.2 131.1L427.6 129.9L429.6 129.9ZM435.1 115.4L435.8 117.3L437.8 117.3L436.2 118.5L436.7 120.5L435.1 119.3L433.5 120.5L434.0 118.5L432.4 117.3L434.4 117.3ZM436.9 115.8L437.6 117.7L439.6 117.7L438.0 118.9L438.5 120.9L436.9 119.7L435.3 120.9L435.8 118.9L434.2 117.7L436.2 117.7ZM437.7 115.4L438.4 117.3L440.4 117.3L438.8 118.5L439.3 120.5L437.7 119.3L436.1 120.5L436.6 118.5L435.0 117.3L437.0 117.3ZM435.2 114.6L435.9 116.5L437.9 116.5L436.3 117.7L436.8 119.7L435.2 118.5L433.6 119.7L434.1 117.7L432.5 116.5L434.5 116.5ZM433.8 117.1L434.5 119.0L436.5 119.0L434.9 120.2L435.4 122.2L433.8 121.0L432.2 122.2L432.7 120.2L431.1 119.0L433.1 119.0ZM471.8 79.2L472.5 81.1L474.5 81.1L472.9 82.3L473.4 84.3L471.8 83.1L470.2 84.3L470.7 82.3L469.1 81.1L471.1 81.1ZM468.7 80.3L469.4 82.2L471.4 82.2L469.8 83.4L470.3 85.4L468.7 84.2L467.1 85.4L467.6 83.4L466.0 82.2L468.0 82.2ZM469.9 79.3L470.6 81.2L472.6 81.2L471.0 82.4L471.5 84.4L469.9 83.2L468.3 84.4L468.8 82.4L467.2 81.2L469.2 81.2ZM469.1 80.9L469.8 82.8L471.8 82.8L470.2 84.0L470.7 86.0L469.1 84.8L467.5 86.0L468.0 84.0L466.4 82.8L468.4 82.8ZM478.1 78.4L478.8 80.3L480.8 80.3L479.2 81.5L479.7 83.5L478.1 82.3L476.5 83.5L477.0 81.5L475.4 80.3L477.4 80.3ZM477.6 77.8L478.3 79.7L480.3 79.7L478.7 80.9L479.2 82.9L477.6 81.7L476.0 82.9L476.5 80.9L474.9 79.7L476.9 79.7ZM478.9 76.9L479.6 78.8L481.6 78.8L480.0 80.0L480.5 82.0L478.9 80.8L477.3 82.0L477.8 80.0L476.2 78.8L478.2 78.8ZM407.9 141.4L408.6 143.3L410.6 143.3L409.0 144.5L409.5 146.5L407.9 145.3L406.3 146.5L406.8 144.5L405.2 143.3L407.2 143.3ZM409.7 148.4L410.4 150.3L412.4 150.3L410.8 151.5L411.3 153.5L409.7 152.3L408.1 153.5L408.6 151.5L407.0 150.3L409.0 150.3ZM409.3 147.2L410.0 149.1L412.0 149.1L410.4 150.3L410.9 152.3L409.3 151.1L407.7 152.3L408.2 150.3L406.6 149.1L408.6 149.1ZM409.6 146.8L410.3 148.7L412.3 148.7L410.7 149.9L411.2 151.9L409.6 150.7L408.0 151.9L408.5 149.9L406.9 148.7L408.9 148.7ZM410.9 146.4L411.6 148.3L413.6 148.3L412.0 149.5L412.5 151.5L410.9 150.3L409.3 151.5L409.8 149.5L408.2 148.3L410.2 148.3ZM411.0 146.6L411.7 148.5L413.7 148.5L412.1 149.7L412.6 151.7L411.0 150.5L409.4 151.7L409.9 149.7L408.3 148.5L410.3 148.5ZM412.3 147.6L413.0 149.5L415.0 149.5L413.4 150.7L413.9 152.7L412.3 151.5L410.7 152.7L411.2 150.7L409.6 149.5L411.6 149.5ZM409.8 147.8L410.5 149.7L412.5 149.7L410.9 150.9L411.4 152.9L409.8 151.7L408.2 152.9L408.7 150.9L407.1 149.7L409.1 149.7ZM409.9 144.5L410.6 146.4L412.6 146.4L411.0 147.6L411.5 149.6L409.9 148.4L408.3 149.6L408.8 147.6L407.2 146.4L409.2 146.4ZM431.8 121.6L432.5 123.5L434.5 123.5L432.9 124.7L433.4 126.7L431.8 125.5L430.2 126.7L430.7 124.7L429.1 123.5L431.1 123.5ZM431.4 121.6L432.1 123.5L434.1 123.5L432.5 124.7L433.0 126.7L431.4 125.5L429.8 126.7L430.3 124.7L428.7 123.5L430.7 123.5ZM434.0 121.4L434.7 123.3L436.7 123.3L435.1 124.5L435.6 126.5L434.0 125.3L432.4 126.5L432.9 124.5L431.3 123.3L433.3 123.3ZM433.4 120.6L434.1 122.5L436.1 122.5L434.5 123.7L435.0 125.7L433.4 124.5L431.8 125.7L432.3 123.7L430.7 122.5L432.7 122.5ZM433.3 120.8L434.0 122.7L436.0 122.7L434.4 123.9L434.9 125.9L433.3 124.7L431.7 125.9L432.2 123.9L430.6 122.7L432.6 122.7ZM429.4 120.7L430.1 122.6L432.1 122.6L430.5 123.8L431.0 125.8L429.4 124.6L427.8 125.8L428.3 123.8L426.7 122.6L428.7 122.6ZM430.8 119.5L431.5 121.4L433.5 121.4L431.9 122.6L432.4 124.6L430.8 123.4L429.2 124.6L429.7 122.6L428.1 121.4L430.1 121.4ZM430.7 124.7L431.4 126.6L433.4 126.6L431.8 127.8L432.3 129.8L430.7 128.6L429.1 129.8L429.6 127.8L428.0 126.6L430.0 126.6ZM431.2 125.1L431.9 127.0L433.9 127.0L432.3 128.2L432.8 130.2L431.2 129.0L429.6 130.2L430.1 128.2L428.5 127.0L430.5 127.0ZM432.4 124.2L433.1 126.1L435.1 126.1L433.5 127.3L434.0 129.3L432.4 128.1L430.8 129.3L431.3 127.3L429.7 126.1L431.7 126.1ZM433.7 123.7L434.4 125.6L436.4 125.6L434.8 126.8L435.3 128.8L433.7 127.6L432.1 128.8L432.6 126.8L431.0 125.6L433.0 125.6ZM429.8 124.0L430.5 125.9L432.5 125.9L430.9 127.1L431.4 129.1L429.8 127.9L428.2 129.1L428.7 127.1L427.1 125.9L429.1 125.9ZM424.8 135.5L425.5 137.4L427.5 137.4L425.9 138.6L426.4 140.6L424.8 139.4L423.2 140.6L423.7 138.6L422.1 137.4L424.1 137.4ZM421.8 135.0L422.5 136.9L424.5 136.9L422.9 138.1L423.4 140.1L421.8 138.9L420.2 140.1L420.7 138.1L419.1 136.9L421.1 136.9ZM421.5 132.5L422.2 134.4L424.2 134.4L422.6 135.6L423.1 137.6L421.5 136.4L419.9 137.6L420.4 135.6L418.8 134.4L420.8 134.4ZM451.2 106.0L451.9 107.9L453.9 107.9L452.3 109.1L452.8 111.1L451.2 109.9L449.6 111.1L450.1 109.1L448.5 107.9L450.5 107.9ZM451.2 102.1L451.9 104.0L453.9 104.0L452.3 105.2L452.8 107.2L451.2 106.0L449.6 107.2L450.1 105.2L448.5 104.0L450.5 104.0ZM407.6 145.6L408.3 147.5L410.3 147.5L408.7 148.7L409.2 150.7L407.6 149.5L406.0 150.7L406.5 148.7L404.9 147.5L406.9 147.5ZM456.4 98.4L457.1 100.3L459.1 100.3L457.5 101.5L458.0 103.5L456.4 102.3L454.8 103.5L455.3 101.5L453.7 100.3L455.7 100.3ZM459.3 97.3L460.0 99.2L462.0 99.2L460.4 100.4L460.9 102.4L459.3 101.2L457.7 102.4L458.2 100.4L456.6 99.2L458.6 99.2ZM457.8 98.5L458.5 100.4L460.5 100.4L458.9 101.6L459.4 103.6L457.8 102.4L456.2 103.6L456.7 101.6L455.1 100.4L457.1 100.4ZM458.2 98.0L458.9 99.9L460.9 99.9L459.3 101.1L459.8 103.1L458.2 101.9L456.6 103.1L457.1 101.1L455.5 99.9L457.5 99.9ZM473.3 82.8L474.0 84.7L476.0 84.7L474.4 85.9L474.9 87.9L473.3 86.7L471.7 87.9L472.2 85.9L470.6 84.7L472.6 84.7ZM473.1 82.8L473.8 84.7L475.8 84.7L474.2 85.9L474.7 87.9L473.1 86.7L471.5 87.9L472.0 85.9L470.4 84.7L472.4 84.7ZM474.8 80.7L475.5 82.6L477.5 82.6L475.9 83.8L476.4 85.8L474.8 84.6L473.2 85.8L473.7 83.8L472.1 82.6L474.1 82.6ZM477.4 82.8L478.1 84.7L480.1 84.7L478.5 85.9L479.0 87.9L477.4 86.7L475.8 87.9L476.3 85.9L474.7 84.7L476.7 84.7ZM473.8 82.9L474.5 84.8L476.5 84.8L474.9 86.0L475.4 88.0L473.8 86.8L472.2 88.0L472.7 86.0L471.1 84.8L473.1 84.8ZM487.6 70.5L488.3 72.4L490.3 72.4L488.7 73.6L489.2 75.6L487.6 74.4L486.0 75.6L486.5 73.6L484.9 72.4L486.9 72.4ZM487.9 70.5L488.6 72.4L490.6 72.4L489.0 73.6L489.5 75.6L487.9 74.4L486.3 75.6L486.8 73.6L485.2 72.4L487.2 72.4ZM489.1 70.3L489.8 72.2L491.8 72.2L490.2 73.4L490.7 75.4L489.1 74.2L487.5 75.4L488.0 73.4L486.4 72.2L488.4 72.2ZM485.1 74.9L485.8 76.8L487.8 76.8L486.2 78.0L486.7 80.0L485.1 78.8L483.5 80.0L484.0 78.0L482.4 76.8L484.4 76.8ZM482.7 75.4L483.4 77.3L485.4 77.3L483.8 78.5L484.3 80.5L482.7 79.3L481.1 80.5L481.6 78.5L480.0 77.3L482.0 77.3ZM482.1 73.6L482.8 75.5L484.8 75.5L483.2 76.7L483.7 78.7L482.1 77.5L480.5 78.7L481.0 76.7L479.4 75.5L481.4 75.5ZM483.0 75.6L483.7 77.5L485.7 77.5L484.1 78.7L484.6 80.7L483.0 79.5L481.4 80.7L481.9 78.7L480.3 77.5L482.3 77.5ZM475.1 80.9L475.8 82.8L477.8 82.8L476.2 84.0L476.7 86.0L475.1 84.8L473.5 86.0L474.0 84.0L472.4 82.8L474.4 82.8ZM476.8 84.0L477.5 85.9L479.5 85.9L477.9 87.1L478.4 89.1L476.8 87.9L475.2 89.1L475.7 87.1L474.1 85.9L476.1 85.9ZM431.6 125.6L432.3 127.5L434.3 127.5L432.7 128.7L433.2 130.7L431.6 129.5L430.0 130.7L430.5 128.7L428.9 127.5L430.9 127.5ZM431.0 125.6L431.7 127.5L433.7 127.5L432.1 128.7L432.6 130.7L431.0 129.5L429.4 130.7L429.9 128.7L428.3 127.5L430.3 127.5ZM432.9 127.3L433.6 129.2L435.6 129.2L434.0 130.4L434.5 132.4L432.9 131.2L431.3 132.4L431.8 130.4L430.2 129.2L432.2 129.2ZM430.9 127.5L431.6 129.4L433.6 129.4L432.0 130.6L432.5 132.6L430.9 131.4L429.3 132.6L429.8 130.6L428.2 129.4L430.2 129.4ZM431.7 122.6L432.4 124.5L434.4 124.5L432.8 125.7L433.3 127.7L431.7 126.5L430.1 127.7L430.6 125.7L429.0 124.5L431.0 124.5ZM430.7 124.0L431.4 125.9L433.4 125.9L431.8 127.1L432.3 129.1L430.7 127.9L429.1 129.1L429.6 127.1L428.0 125.9L430.0 125.9ZM430.0 122.6L430.7 124.5L432.7 124.5L431.1 125.7L431.6 127.7L430.0 126.5L428.4 127.7L428.9 125.7L427.3 124.5L429.3 124.5ZM431.8 121.1L432.5 123.0L434.5 123.0L432.9 124.2L433.4 126.2L431.8 125.0L430.2 126.2L430.7 124.2L429.1 123.0L431.1 123.0ZM429.8 123.5L430.5 125.4L432.5 125.4L430.9 126.6L431.4 128.6L429.8 127.4L428.2 128.6L428.7 126.6L427.1 125.4L429.1 125.4ZM402.9 148.7L403.6 150.6L405.6 150.6L404.0 151.8L404.5 153.8L402.9 152.6L401.3 153.8L401.8 151.8L400.2 150.6L402.2 150.6ZM404.8 148.4L405.5 150.3L407.5 150.3L405.9 151.5L406.4 153.5L404.8 152.3L403.2 153.5L403.7 151.5L402.1 150.3L404.1 150.3ZM402.3 151.1L403.0 153.0L405.0 153.0L403.4 154.2L403.9 156.2L402.3 155.0L400.7 156.2L401.2 154.2L399.6 153.0L401.6 153.0ZM403.3 149.9L404.0 151.8L406.0 151.8L404.4 153.0L404.9 155.0L403.3 153.8L401.7 155.0L402.2 153.0L400.6 151.8L402.6 151.8ZM439.2 120.2L439.9 122.1L441.9 122.1L440.3 123.3L440.8 125.3L439.2 124.1L437.6 125.3L438.1 123.3L436.5 122.1L438.5 122.1ZM437.7 121.3L438.4 123.2L440.4 123.2L438.8 124.4L439.3 126.4L437.7 125.2L436.1 126.4L436.6 124.4L435.0 123.2L437.0 123.2ZM438.2 120.6L438.9 122.5L440.9 122.5L439.3 123.7L439.8 125.7L438.2 124.5L436.6 125.7L437.1 123.7L435.5 122.5L437.5 122.5ZM437.4 120.0L438.1 121.9L440.1 121.9L438.5 123.1L439.0 125.1L437.4 123.9L435.8 125.1L436.3 123.1L434.7 121.9L436.7 121.9Z" fill="#000"/>
<line x1="327.00" y1="220.80" x2="544.80" y2="19.60" stroke="#4e40b0" stroke-width="1.15" stroke-dasharray="4.45 2.19"/>
<rect x="327.00" y="17.10" width="219.70" height="203.70" fill="none" stroke="#000" stroke-width="1.25"/>
<line x1="335.14" y1="220.80" x2="335.14" y2="224.60" stroke="#777" stroke-width="0.70"/>
<line x1="323.20" y1="213.26" x2="327.00" y2="213.26" stroke="#777" stroke-width="0.70"/>
<text transform="translate(335.14 235.70) scale(1 1.100)" font-size="9.70" text-anchor="middle" stroke="#111" stroke-width="0.22">0.35</text>
<text transform="translate(317.80 213.26) rotate(-90)" font-size="9.70" text-anchor="middle" stroke="#111" stroke-width="0.22">0.35</text>
<line x1="375.82" y1="220.80" x2="375.82" y2="224.60" stroke="#777" stroke-width="0.70"/>
<line x1="323.20" y1="175.53" x2="327.00" y2="175.53" stroke="#777" stroke-width="0.70"/>
<text transform="translate(375.82 235.70) scale(1 1.100)" font-size="9.70" text-anchor="middle" stroke="#111" stroke-width="0.22">0.40</text>
<text transform="translate(317.80 175.53) rotate(-90)" font-size="9.70" text-anchor="middle" stroke="#111" stroke-width="0.22">0.40</text>
<line x1="416.51" y1="220.80" x2="416.51" y2="224.60" stroke="#777" stroke-width="0.70"/>
<line x1="323.20" y1="137.81" x2="327.00" y2="137.81" stroke="#777" stroke-width="0.70"/>
<text transform="translate(416.51 235.70) scale(1 1.100)" font-size="9.70" text-anchor="middle" stroke="#111" stroke-width="0.22">0.45</text>
<text transform="translate(317.80 137.81) rotate(-90)" font-size="9.70" text-anchor="middle" stroke="#111" stroke-width="0.22">0.45</text>
<line x1="457.19" y1="220.80" x2="457.19" y2="224.60" stroke="#777" stroke-width="0.70"/>
<line x1="323.20" y1="100.09" x2="327.00" y2="100.09" stroke="#777" stroke-width="0.70"/>
<text transform="translate(457.19 235.70) scale(1 1.100)" font-size="9.70" text-anchor="middle" stroke="#111" stroke-width="0.22">0.50</text>
<text transform="translate(317.80 100.09) rotate(-90)" font-size="9.70" text-anchor="middle" stroke="#111" stroke-width="0.22">0.50</text>
<line x1="497.88" y1="220.80" x2="497.88" y2="224.60" stroke="#777" stroke-width="0.70"/>
<line x1="323.20" y1="62.37" x2="327.00" y2="62.37" stroke="#777" stroke-width="0.70"/>
<text transform="translate(497.88 235.70) scale(1 1.100)" font-size="9.70" text-anchor="middle" stroke="#111" stroke-width="0.22">0.55</text>
<text transform="translate(317.80 62.37) rotate(-90)" font-size="9.70" text-anchor="middle" stroke="#111" stroke-width="0.22">0.55</text>
<line x1="538.56" y1="220.80" x2="538.56" y2="224.60" stroke="#777" stroke-width="0.70"/>
<line x1="323.20" y1="24.64" x2="327.00" y2="24.64" stroke="#777" stroke-width="0.70"/>
<text transform="translate(538.56 235.70) scale(1 1.100)" font-size="9.70" text-anchor="middle" stroke="#111" stroke-width="0.22">0.60</text>
<text transform="translate(317.80 24.64) rotate(-90)" font-size="9.70" text-anchor="middle" stroke="#111" stroke-width="0.22">0.60</text>
<text transform="translate(436.85 8.75) scale(1 1.100)" font-size="7.70" text-anchor="middle" font-weight="bold" stroke="#111" stroke-width="0.17">PTF-8</text>
<text transform="translate(385.80 249.20) scale(1 1.100)" font-size="9.75" stroke="#111" stroke-width="0.22">Measured <tspan font-size="11.3">θ</tspan><tspan font-size="7.4" dy="1.8">S</tspan><tspan dy="-1.8" dx="3.4">[cm</tspan><tspan font-size="7.0" dy="-3.4">3</tspan><tspan dy="3.4">/cm</tspan><tspan font-size="7.0" dy="-3.4">3</tspan><tspan dy="3.4">]</tspan></text>
<text transform="translate(300.70 169.90) rotate(-90)" font-size="9.75" stroke="#111" stroke-width="0.22">Estimated <tspan font-size="11.3">θ</tspan><tspan font-size="7.4" dy="1.8">S</tspan><tspan dy="-1.8" dx="3.4">[cm</tspan><tspan font-size="7.0" dy="-3.4">3</tspan><tspan dy="3.4">/cm</tspan><tspan font-size="7.0" dy="-3.4">3</tspan><tspan dy="3.4">]</tspan></text>
<text transform="translate(341.66 38.20)" font-size="10.12" text-anchor="middle" fill="#4636a6" stroke="#4636a6" stroke-width="0.08">θ</text>
<text transform="translate(346.79 40.68)" font-size="7.18" text-anchor="middle" font-weight="bold" fill="#4636a6" stroke="#4636a6" stroke-width="0.16">S</text>
<text transform="translate(353.65 38.20)" font-size="9.20" text-anchor="middle" fill="#4636a6" stroke="#4636a6" stroke-width="0.08">=</text>
<text transform="translate(362.02 38.20)" font-size="9.20" text-anchor="middle" font-weight="bold" fill="#4636a6" stroke="#4636a6" stroke-width="0.21">a</text>
<text transform="translate(369.03 38.20)" font-size="9.20" text-anchor="middle" fill="#4636a6" stroke="#4636a6" stroke-width="0.08">+</text>
<text transform="translate(376.80 38.20)" font-size="9.20" text-anchor="middle" font-weight="bold" fill="#4636a6" stroke="#4636a6" stroke-width="0.21">b</text>
<text transform="translate(384.72 38.20)" font-size="9.20" text-anchor="middle" fill="#4636a6" stroke="#4636a6" stroke-width="0.08">·</text>
<text transform="translate(394.40 38.20)" font-size="9.20" text-anchor="middle" font-weight="bold" fill="#4636a6" stroke="#4636a6" stroke-width="0.21">Cl</text>
<text transform="translate(401.42 34.06)" font-size="6.44" text-anchor="middle" fill="#4636a6" stroke="#4636a6" stroke-width="0.08">2</text>
<text transform="translate(407.64 38.20)" font-size="9.20" text-anchor="middle" fill="#4636a6" stroke="#4636a6" stroke-width="0.08">+</text>
<text transform="translate(415.03 38.20)" font-size="9.20" text-anchor="middle" font-weight="bold" fill="#4636a6" stroke="#4636a6" stroke-width="0.21">c</text>
<text transform="translate(422.64 38.20)" font-size="9.20" text-anchor="middle" fill="#4636a6" stroke="#4636a6" stroke-width="0.08">·</text>
<text transform="translate(432.44 38.20)" font-size="9.20" text-anchor="middle" font-weight="bold" fill="#4636a6" stroke="#4636a6" stroke-width="0.21">Cl</text>
<text transform="translate(441.64 38.20)" font-size="9.20" text-anchor="middle" fill="#4636a6" stroke="#4636a6" stroke-width="0.08">+</text>
<text transform="translate(449.26 38.20)" font-size="9.20" text-anchor="middle" font-weight="bold" fill="#4636a6" stroke="#4636a6" stroke-width="0.21">d</text>
<text transform="translate(457.40 38.20)" font-size="9.20" text-anchor="middle" fill="#4636a6" stroke="#4636a6" stroke-width="0.08">·</text>
<text transform="translate(468.94 38.20)" font-size="9.20" text-anchor="middle" font-weight="bold" fill="#4636a6" stroke="#4636a6" stroke-width="0.21">BD</text>
<text transform="translate(480.77 38.20)" font-size="9.20" text-anchor="middle" fill="#4636a6" stroke="#4636a6" stroke-width="0.08">+</text>
<text transform="translate(487.49 38.20)" font-size="9.20" text-anchor="middle" font-weight="bold" fill="#4636a6" stroke="#4636a6" stroke-width="0.21">e</text>
<text transform="translate(495.10 38.20)" font-size="9.20" text-anchor="middle" fill="#4636a6" stroke="#4636a6" stroke-width="0.08">·</text>
<text transform="translate(505.51 38.20)" font-size="9.20" text-anchor="middle" font-weight="bold" fill="#4636a6" stroke="#4636a6" stroke-width="0.21">Sa</text>
<text transform="translate(339.50 56.50) scale(1 1.040)" font-size="6.45" stroke="#111" stroke-width="0.15"><tspan font-weight="bold">a</tspan> = 0.6044 ± 0.0092</text>
<text transform="translate(339.50 67.77) scale(1 1.040)" font-size="6.45" stroke="#111" stroke-width="0.15"><tspan font-weight="bold">b</tspan> = 0.5823 ± 0.0166</text>
<text transform="translate(339.50 79.04) scale(1 1.040)" font-size="6.45" stroke="#111" stroke-width="0.15"><tspan font-weight="bold">c</tspan> = <tspan dx="0.4">−</tspan><tspan dx="0.9">0.1976 ± 0.0081</tspan></text>
<text transform="translate(339.50 90.31) scale(1 1.040)" font-size="6.45" stroke="#111" stroke-width="0.15"><tspan font-weight="bold">d</tspan> = <tspan dx="0.4">−</tspan><tspan dx="0.9">0.0943 ± 0.0074</tspan></text>
<text transform="translate(339.50 101.58) scale(1 1.040)" font-size="6.45" stroke="#111" stroke-width="0.15"><tspan font-weight="bold">e</tspan> = <tspan dx="0.4">−</tspan><tspan dx="0.9">0.0004 ± 0.00002</tspan></text>
<text transform="translate(522.70 46.00) scale(1 1.200)" font-size="5.90" font-weight="bold" fill="#4636a6" stroke="#4636a6" stroke-width="0.13">1:1</text>
<rect x="459.50" y="122.00" width="77.50" height="83.50" fill="#fff"/>
<text transform="translate(481.70 132.80) scale(1 1.100)" font-size="6.30" fill="#4636a6" stroke="#4636a6" stroke-width="0.14"><tspan font-weight="bold">R</tspan><tspan font-size="4.4" dy="-2.4">2</tspan><tspan dy="2.4"> = 0.9783</tspan></text>
<rect x="478.71" y="182.58" width="3.17" height="0.52" fill="url(#hatch)" stroke="#857dcb" stroke-width="0.55"/>
<rect x="485.04" y="182.58" width="3.17" height="0.52" fill="url(#hatch)" stroke="#857dcb" stroke-width="0.55"/>
<rect x="494.54" y="182.31" width="3.17" height="0.79" fill="url(#hatch)" stroke="#857dcb" stroke-width="0.55"/>
<rect x="497.70" y="181.53" width="3.17" height="1.57" fill="url(#hatch)" stroke="#857dcb" stroke-width="0.55"/>
<rect x="500.87" y="164.24" width="3.17" height="18.86" fill="url(#hatch)" stroke="#857dcb" stroke-width="0.55"/>
<rect x="504.03" y="139.61" width="3.17" height="43.49" fill="url(#hatch)" stroke="#857dcb" stroke-width="0.55"/>
<rect x="507.20" y="148.78" width="3.17" height="34.32" fill="url(#hatch)" stroke="#857dcb" stroke-width="0.55"/>
<rect x="510.37" y="167.64" width="3.17" height="15.46" fill="url(#hatch)" stroke="#857dcb" stroke-width="0.55"/>
<rect x="513.53" y="180.74" width="3.17" height="2.36" fill="url(#hatch)" stroke="#857dcb" stroke-width="0.55"/>
<rect x="516.69" y="181.79" width="3.17" height="1.31" fill="url(#hatch)" stroke="#857dcb" stroke-width="0.55"/>
<rect x="519.86" y="182.58" width="3.17" height="0.52" fill="url(#hatch)" stroke="#857dcb" stroke-width="0.55"/>
<rect x="477.60" y="138.20" width="47.00" height="46.10" fill="none" stroke="#000" stroke-width="0.9"/>
<line x1="481.88" y1="184.30" x2="481.88" y2="187.70" stroke="#000" stroke-width="0.80"/>
<text transform="translate(481.88 198.90) scale(1 1.100)" font-size="4.70" text-anchor="middle" stroke="#111" stroke-width="0.11">-0.04</text>
<line x1="488.21" y1="184.30" x2="488.21" y2="187.70" stroke="#000" stroke-width="0.80"/>
<line x1="494.54" y1="184.30" x2="494.54" y2="187.70" stroke="#000" stroke-width="0.80"/>
<line x1="500.87" y1="184.30" x2="500.87" y2="187.70" stroke="#000" stroke-width="0.80"/>
<text transform="translate(500.87 198.90) scale(1 1.100)" font-size="4.70" text-anchor="middle" stroke="#111" stroke-width="0.11">-0.01</text>
<line x1="507.20" y1="184.30" x2="507.20" y2="187.70" stroke="#000" stroke-width="0.80"/>
<line x1="513.53" y1="184.30" x2="513.53" y2="187.70" stroke="#000" stroke-width="0.80"/>
<line x1="519.86" y1="184.30" x2="519.86" y2="187.70" stroke="#000" stroke-width="0.80"/>
<text transform="translate(519.86 198.90) scale(1 1.100)" font-size="4.70" text-anchor="middle" stroke="#111" stroke-width="0.11">0.02</text>
<line x1="473.20" y1="183.10" x2="477.60" y2="183.10" stroke="#000" stroke-width="0.80"/>
<text transform="translate(468.60 183.10) rotate(-90) scale(1 1.100)" font-size="4.80" text-anchor="middle" stroke="#111" stroke-width="0.11">0</text>
<line x1="473.20" y1="170.00" x2="477.60" y2="170.00" stroke="#000" stroke-width="0.80"/>
<text transform="translate(468.60 170.00) rotate(-90) scale(1 1.100)" font-size="4.80" text-anchor="middle" stroke="#111" stroke-width="0.11">50</text>
<line x1="473.20" y1="156.90" x2="477.60" y2="156.90" stroke="#000" stroke-width="0.80"/>
<text transform="translate(468.60 156.90) rotate(-90) scale(1 1.100)" font-size="4.80" text-anchor="middle" stroke="#111" stroke-width="0.11">100</text>
<line x1="473.20" y1="143.80" x2="477.60" y2="143.80" stroke="#000" stroke-width="0.80"/>
<text transform="translate(468.60 143.80) rotate(-90) scale(1 1.100)" font-size="4.80" text-anchor="middle" stroke="#111" stroke-width="0.11">150</text>
<text transform="translate(501.10 206.30) scale(1 1.100)" font-size="4.60" text-anchor="middle" stroke="#111" stroke-width="0.10">Residuals</text>
<text transform="translate(461.60 161.25) rotate(-90) scale(1 1.100)" font-size="4.60" text-anchor="middle" stroke="#111" stroke-width="0.10">N</text>
</svg>
</body></html>
